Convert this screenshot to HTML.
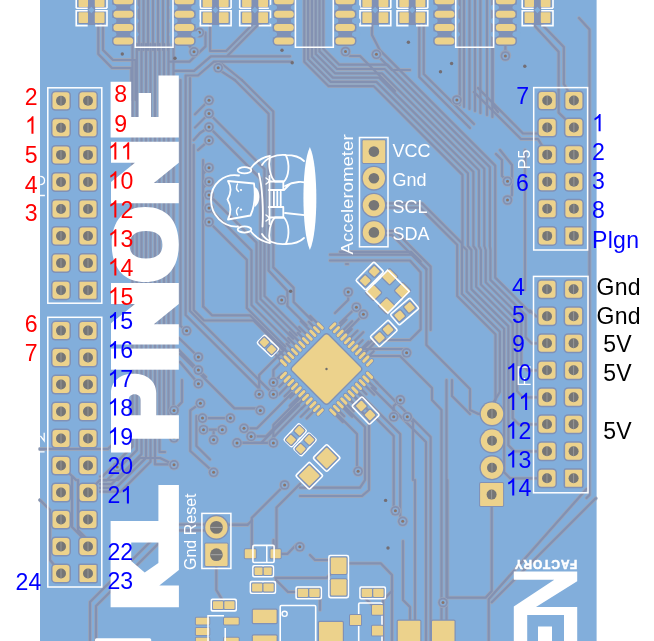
<!DOCTYPE html>
<html><head><meta charset="utf-8"><style>
html,body{margin:0;padding:0;background:#fff;overflow:hidden;}
svg{display:block;will-change:transform;font-family:"Liberation Sans",sans-serif;}
</style></head><body>
<svg width="654" height="641" viewBox="0 0 654 641">
<rect x="0" y="0" width="654" height="641" fill="#fff"/>
<rect x="40" y="0" width="556.6" height="641" fill="rgb(130,174,219)"/>
<g fill="none" stroke="rgb(155,166,186)" stroke-width="3.8" stroke-linejoin="round" stroke-linecap="round">
<polyline points="132.5,44.0 132.5,446.5 102.5,476.5 100.0,476.5"/>
<polyline points="136.8,44.0 136.8,450.3 106.8,480.3 100.0,480.3"/>
<polyline points="141.5,44.0 141.5,454.1 111.5,484.1 100.0,484.1"/>
<polyline points="146.0,44.0 146.0,457.9 116.0,487.9 100.0,487.9"/>
<polyline points="150.5,44.0 150.5,461.7 120.5,491.7 100.0,491.7"/>
<polyline points="155.0,44.0 155.0,464.4 173.6,464.4"/>
<polyline points="159.5,44.0 159.5,452.0 165.0,452.0"/>
<polyline points="164.0,44.0 164.0,425.0"/>
<polyline points="168.5,44.0 168.5,425.0"/>
<polyline points="173.5,44.0 173.5,425.0"/>
<polyline points="139.0,0.0 139.0,50.0"/>
<polyline points="143.5,0.0 143.5,50.0"/>
<polyline points="148.0,0.0 148.0,50.0"/>
<polyline points="153.0,0.0 153.0,50.0"/>
<polyline points="158.0,0.0 158.0,50.0"/>
<polyline points="163.0,0.0 163.0,50.0"/>
<polyline points="168.0,0.0 168.0,50.0"/>
<polyline points="98.3,24.0 98.3,54.0 112.0,68.0 131.4,68.0 131.4,100.0"/>
<polyline points="103.0,24.0 103.0,50.0 113.0,60.0 135.5,60.0 135.5,100.0"/>
<polyline points="199.4,32.6 205.5,32.6 205.5,46.4 189.5,61.7 170.0,61.7"/>
<polyline points="186.0,41.0 194.0,51.8"/>
<polyline points="210.1,24.0 210.1,51.0 226.2,51.0 252.0,25.0 252.0,22.0"/>
<polyline points="227.7,55.6 258.0,25.0 263.4,22.0"/>
<polyline points="290.0,56.3 210.9,56.3 194.0,70.9 174.2,70.9"/>
<polyline points="292.0,61.7 214.0,61.7 197.9,75.5 185.6,75.5 185.6,315.0 259.2,388.6 259.2,394.2"/>
<polyline points="180.5,80.0 180.5,326.0 186.6,330.8"/>
<polyline points="190.0,78.0 190.0,311.0 266.4,387.4 273.4,394.2"/>
<polyline points="193.7,140.0 200.0,133.0 209.0,127.1"/>
<polyline points="198.0,150.0 209.0,140.4"/>
<polyline points="193.7,145.0 193.7,310.0 204.0,320.5 253.6,320.5 282.4,349.4"/>
<polyline points="203.1,160.0 203.1,306.4 212.0,315.3 250.0,315.3 288.0,353.0"/>
<polyline points="209.0,100.3 195.0,114.3"/>
<polyline points="209.0,113.5 195.0,127.5"/>
<polyline points="209.0,222.0 246.8,259.8 246.8,308.0 285.3,346.5"/>
<polyline points="209.0,208.0 251.5,250.5 251.5,305.0 289.2,342.7"/>
<polyline points="209.0,195.0 256.5,242.5 256.5,302.0 293.2,338.7"/>
<polyline points="209.0,127.1 260.5,178.6 260.5,299.0 296.7,335.2"/>
<polyline points="209.0,113.5 264.5,169.0 264.5,296.0 300.2,331.7"/>
<polyline points="209.0,167.7 203.1,173.6"/>
<polyline points="209.0,181.7 203.1,187.6"/>
<polyline points="234.8,80.0 268.6,113.8 268.6,270.6 287.4,290.8 287.4,306.0 306.6,325.2"/>
<polyline points="241.8,80.0 273.3,111.5 273.3,267.4 293.6,287.7 293.6,302.0 311.7,320.1"/>
<polyline points="216.8,68.3 234.8,80.0"/>
<polyline points="222.0,64.0 241.8,80.0"/>
<polyline points="203.1,306.4 203.1,300.0"/>
<polyline points="384.0,207.6 420.0,207.6 457.2,244.8 457.2,296.0 495.5,334.3 495.5,400.0 492.0,405.0"/>
<polyline points="384.0,203.3 422.0,203.3 461.9,243.2 461.9,293.7 499.8,331.6 499.8,392.0 492.0,405.0"/>
<polyline points="304.3,0.0 304.3,61.8 328.7,86.2 373.8,86.2 462.5,174.9 462.5,246.0 466.7,250.0 466.7,291.4 504.1,328.8 504.1,472.3 510.1,478.3 547.0,478.3"/>
<polyline points="308.1,0.0 308.1,59.2 330.8,81.9 376.5,81.9 467.9,173.3 467.9,246.0 471.4,250.0 471.4,289.1 508.4,326.1 508.4,445.3 514.4,451.3 547.0,451.3"/>
<polyline points="311.9,0.0 311.9,56.6 332.9,77.6 379.2,77.6 473.4,171.8 473.4,246.0 476.2,250.0 476.2,286.8 512.7,323.3 512.7,418.3 518.7,424.3 547.0,424.3"/>
<polyline points="315.7,0.0 315.7,54.0 335.0,73.3 381.9,73.3 478.9,170.2 478.9,246.0 480.9,250.0 480.9,284.5 517.0,320.6 517.0,391.3 523.0,397.3 547.0,397.3"/>
<polyline points="319.5,0.0 319.5,51.4 337.1,69.0 384.6,69.0 484.3,168.7 484.3,246.0 485.7,250.0 485.7,282.2 521.3,317.8 521.3,364.3 527.3,370.3 547.0,370.3"/>
<polyline points="323.3,0.0 323.3,48.8 339.2,64.7 387.3,64.7 489.8,167.1 489.8,246.0 490.4,250.0 490.4,279.9 525.6,315.1 525.6,337.3 531.6,343.3 547.0,343.3"/>
<polyline points="372.0,25.0 372.0,35.0 380.0,50.4 495.2,165.6 495.2,246.0 495.2,250.0 495.2,277.6 529.9,312.3 529.9,310.3 535.9,316.3 547.0,316.3"/>
<polyline points="345.5,51.5 350.0,56.0 360.0,56.0 395.0,91.0"/>
<polyline points="376.4,54.3 392.0,70.0 410.0,70.0"/>
<polyline points="459.7,0.0 459.7,105.0"/>
<polyline points="464.0,0.0 464.0,107.0"/>
<polyline points="469.5,0.0 469.5,109.0"/>
<polyline points="475.0,0.0 475.0,111.0"/>
<polyline points="480.4,0.0 480.4,113.0"/>
<polyline points="487.0,0.0 487.0,115.0"/>
<polyline points="492.4,0.0 492.4,117.0"/>
<polyline points="419.3,25.0 419.3,77.0 470.0,128.0"/>
<polyline points="423.7,25.0 423.7,74.0 474.0,124.0"/>
<polyline points="180.0,354.0 234.5,408.4 260.3,408.4"/>
<polyline points="178.9,338.0 198.4,357.0"/>
<polyline points="178.9,350.0 198.4,370.1 206.0,377.0"/>
<polyline points="180.0,362.0 198.4,383.7"/>
<polyline points="200.4,403.3 190.3,410.4 190.3,451.0 213.6,472.3"/>
<polyline points="196.4,416.0 196.4,446.0 210.0,459.5"/>
<polyline points="202.5,418.1 230.4,418.1"/>
<polyline points="203.5,429.7 222.3,429.7"/>
<polyline points="213.6,439.8 213.6,432.0"/>
<polyline points="244.0,428.3 257.0,428.3 292.0,393.0"/>
<polyline points="237.0,442.9 261.3,442.9 298.9,405.1"/>
<polyline points="251.1,436.4 266.0,436.4 297.9,404.1"/>
<polyline points="273.4,442.9 273.4,425.0 300.0,398.0"/>
<polyline points="259.2,394.2 259.2,375.0 285.0,349.0"/>
<polyline points="273.4,394.2 273.4,370.0 289.0,354.0"/>
<polyline points="273.4,382.4 282.0,374.0"/>
<polyline points="40.0,449.0 108.0,449.0 126.0,431.0"/>
<polyline points="88.0,492.5 100.0,480.0 118.0,480.0 140.0,458.0 160.0,458.0 174.0,464.8"/>
<polyline points="61.0,465.5 76.0,480.0 72.0,476.0 72.0,527.0 88.0,543.0"/>
<polyline points="78.0,480.0 78.0,530.0 88.0,540.0"/>
<polyline points="40.0,500.0 50.0,510.0 50.0,560.0 61.0,573.4"/>
<polyline points="173.6,437.6 173.6,430.0"/>
<polyline points="174.0,410.4 182.0,402.0 182.0,380.0"/>
<polyline points="90.0,641.0 90.0,602.0 152.0,540.0"/>
<polyline points="96.0,641.0 96.0,606.0 158.0,544.0"/>
<polyline points="338.7,327.4 346.4,319.6"/>
<polyline points="342.3,331.1 352.2,321.2"/>
<polyline points="346.0,334.8 351.7,329.1"/>
<polyline points="349.7,338.5 357.5,330.7"/>
<polyline points="353.4,342.1 363.3,332.2"/>
<polyline points="357.0,345.8 362.7,340.2"/>
<polyline points="360.7,349.5 368.5,341.7"/>
<polyline points="364.4,353.2 374.3,343.3"/>
<polyline points="368.1,356.8 373.7,351.2"/>
<polyline points="371.8,377.5 377.4,383.1"/>
<polyline points="368.1,381.2 375.9,388.9"/>
<polyline points="364.4,384.8 374.3,394.7"/>
<polyline points="360.7,388.5 366.4,394.2"/>
<polyline points="357.0,392.2 364.8,400.0"/>
<polyline points="353.4,395.9 363.3,405.8"/>
<polyline points="349.7,399.5 355.3,405.2"/>
<polyline points="346.0,403.2 353.8,411.0"/>
<polyline points="342.3,406.9 352.2,416.8"/>
<polyline points="338.7,410.6 344.3,416.2"/>
<polyline points="335.0,414.3 342.8,422.0"/>
<polyline points="314.3,410.6 306.6,418.4"/>
<polyline points="310.7,406.9 300.8,416.8"/>
<polyline points="307.0,403.2 301.3,408.9"/>
<polyline points="303.3,399.5 295.5,407.3"/>
<polyline points="299.6,395.9 289.7,405.8"/>
<polyline points="296.0,392.2 290.3,397.8"/>
<polyline points="292.3,388.5 284.5,396.3"/>
<polyline points="288.6,384.8 278.7,394.7"/>
<polyline points="284.9,381.2 279.3,386.8"/>
<polyline points="281.2,360.5 275.6,354.9"/>
<polyline points="284.9,356.8 277.1,349.1"/>
<polyline points="288.6,353.2 278.7,343.3"/>
<polyline points="292.3,349.5 286.6,343.8"/>
<polyline points="296.0,345.8 288.2,338.0"/>
<polyline points="299.6,342.1 289.7,332.2"/>
<polyline points="303.3,338.5 297.7,332.8"/>
<polyline points="307.0,334.8 299.2,327.0"/>
<polyline points="310.7,331.1 300.8,321.2"/>
<polyline points="314.3,327.4 308.7,321.8"/>
<polyline points="318.0,323.7 310.2,316.0"/>
<polyline points="330.0,260.5 410.0,260.5 420.6,272.2 420.6,329.4 410.0,340.0 372.7,340.0 360.0,352.0"/>
<polyline points="330.0,254.7 412.0,254.7 426.4,269.0 426.4,345.0 470.0,389.0 470.0,410.0 478.0,413.8 492.0,413.8"/>
<polyline points="348.0,264.0 346.0,264.0"/>
<polyline points="348.2,292.0 348.2,300.0 335.0,313.0"/>
<polyline points="356.4,307.2 340.0,323.0"/>
<polyline points="363.4,314.3 345.0,333.0"/>
<polyline points="357.0,349.0 406.6,349.0 406.6,352.8"/>
<polyline points="360.0,356.0 400.0,356.0 432.0,388.0 432.0,400.0 441.5,410.0 441.5,641.0"/>
<polyline points="446.5,380.0 446.5,641.0"/>
<polyline points="452.0,380.0 452.0,396.0 470.0,414.0"/>
<polyline points="335.0,412.0 357.0,434.0 357.0,471.3"/>
<polyline points="344.0,406.0 365.0,427.0 365.0,480.0 360.0,487.7 300.0,487.7"/>
<polyline points="350.0,400.0 369.0,419.0 369.0,490.0 362.0,496.0 300.0,496.0"/>
<polyline points="354.0,396.0 393.7,436.0 393.7,510.8"/>
<polyline points="358.0,392.0 400.2,434.0 400.2,521.3"/>
<polyline points="371.6,387.6 426.0,442.0 426.0,641.0"/>
<polyline points="376.6,382.6 430.6,437.0 430.6,641.0"/>
<polyline points="400.3,399.9 393.7,406.0 393.7,416.8"/>
<polyline points="407.3,416.8 413.0,422.0 413.0,480.0"/>
<polyline points="447.4,480.0 447.4,597.7 485.6,597.7 491.7,591.0 491.7,494.0"/>
<polyline points="586.5,489.0 488.7,599.3 488.7,641.0"/>
<polyline points="595.7,498.3 491.7,602.3"/>
<polyline points="579.0,18.0 589.5,29.5 589.5,495.0 586.5,498.0"/>
<polyline points="532.9,24.0 558.6,51.7 558.6,112.6 573.9,127.2"/>
<polyline points="541.5,24.0 563.8,47.0 563.8,84.0 573.9,100.5"/>
<polyline points="505.4,56.0 505.4,41.0"/>
<polyline points="492.6,45.0 492.6,105.0 498.0,112.0"/>
<polyline points="280.7,553.8 287.6,553.8 296.0,545.0 299.8,546.8"/>
<polyline points="275.4,577.9 326.7,577.9 330.8,574.0"/>
<polyline points="349.0,563.3 380.7,563.3 392.0,575.0 392.0,641.0"/>
<polyline points="273.5,540.0 273.5,549.3"/>
<polyline points="284.6,485.0 251.8,517.8 251.8,549.0"/>
<polyline points="300.0,484.0 276.5,507.5 276.5,549.0"/>
<polyline points="230.0,525.0 247.4,525.0 251.8,520.6"/>
<polyline points="237.0,442.9 267.8,442.9 301.9,408.0"/>
<polyline points="216.3,566.0 216.3,590.0 222.0,599.4"/>
<polyline points="340.0,560.0 315.0,560.0 310.0,555.0"/>
<polyline points="383.0,640.0 383.0,600.0 392.0,591.0"/>
<polyline points="296.0,592.0 288.0,592.0 276.0,580.0"/>
<polyline points="320.0,598.0 320.0,610.0"/>
<polyline points="372.0,605.0 365.0,598.0"/>
<polyline points="403.0,541.0 403.0,600.0 410.0,607.0 410.0,641.0"/>
<polyline points="415.0,480.0 415.0,641.0"/>
<polyline points="384.0,231.0 395.0,231.0 430.6,266.6 430.6,330.0"/>
<polyline points="384.0,235.0 392.0,235.0 426.4,269.4"/>
<polyline points="340.0,251.8 411.0,251.8 420.6,261.4"/>
<polyline points="478.0,88.0 523.0,133.5 540.0,133.5 547.2,127.2"/>
<polyline points="474.0,92.0 521.0,139.0 538.0,139.0 547.2,154.4"/>
<polyline points="507.5,181.2 502.0,176.0 502.0,160.0 496.0,154.0"/>
<polyline points="507.5,200.0 512.0,195.0 512.0,165.0 500.0,150.0"/>
<polyline points="525.0,150.0 525.0,290.0"/>
<polyline points="178.9,524.5 205.0,524.5"/>
<polyline points="178.9,530.3 205.0,530.3"/>
<polyline points="228.0,524.5 247.4,524.5"/>
</g>
<g fill="none" stroke="rgb(131,145,178)" stroke-width="2.2" stroke-linejoin="round" stroke-linecap="round">
<polyline points="132.5,44.0 132.5,446.5 102.5,476.5 100.0,476.5"/>
<polyline points="136.8,44.0 136.8,450.3 106.8,480.3 100.0,480.3"/>
<polyline points="141.5,44.0 141.5,454.1 111.5,484.1 100.0,484.1"/>
<polyline points="146.0,44.0 146.0,457.9 116.0,487.9 100.0,487.9"/>
<polyline points="150.5,44.0 150.5,461.7 120.5,491.7 100.0,491.7"/>
<polyline points="155.0,44.0 155.0,464.4 173.6,464.4"/>
<polyline points="159.5,44.0 159.5,452.0 165.0,452.0"/>
<polyline points="164.0,44.0 164.0,425.0"/>
<polyline points="168.5,44.0 168.5,425.0"/>
<polyline points="173.5,44.0 173.5,425.0"/>
<polyline points="139.0,0.0 139.0,50.0"/>
<polyline points="143.5,0.0 143.5,50.0"/>
<polyline points="148.0,0.0 148.0,50.0"/>
<polyline points="153.0,0.0 153.0,50.0"/>
<polyline points="158.0,0.0 158.0,50.0"/>
<polyline points="163.0,0.0 163.0,50.0"/>
<polyline points="168.0,0.0 168.0,50.0"/>
<polyline points="98.3,24.0 98.3,54.0 112.0,68.0 131.4,68.0 131.4,100.0"/>
<polyline points="103.0,24.0 103.0,50.0 113.0,60.0 135.5,60.0 135.5,100.0"/>
<polyline points="199.4,32.6 205.5,32.6 205.5,46.4 189.5,61.7 170.0,61.7"/>
<polyline points="186.0,41.0 194.0,51.8"/>
<polyline points="210.1,24.0 210.1,51.0 226.2,51.0 252.0,25.0 252.0,22.0"/>
<polyline points="227.7,55.6 258.0,25.0 263.4,22.0"/>
<polyline points="290.0,56.3 210.9,56.3 194.0,70.9 174.2,70.9"/>
<polyline points="292.0,61.7 214.0,61.7 197.9,75.5 185.6,75.5 185.6,315.0 259.2,388.6 259.2,394.2"/>
<polyline points="180.5,80.0 180.5,326.0 186.6,330.8"/>
<polyline points="190.0,78.0 190.0,311.0 266.4,387.4 273.4,394.2"/>
<polyline points="193.7,140.0 200.0,133.0 209.0,127.1"/>
<polyline points="198.0,150.0 209.0,140.4"/>
<polyline points="193.7,145.0 193.7,310.0 204.0,320.5 253.6,320.5 282.4,349.4"/>
<polyline points="203.1,160.0 203.1,306.4 212.0,315.3 250.0,315.3 288.0,353.0"/>
<polyline points="209.0,100.3 195.0,114.3"/>
<polyline points="209.0,113.5 195.0,127.5"/>
<polyline points="209.0,222.0 246.8,259.8 246.8,308.0 285.3,346.5"/>
<polyline points="209.0,208.0 251.5,250.5 251.5,305.0 289.2,342.7"/>
<polyline points="209.0,195.0 256.5,242.5 256.5,302.0 293.2,338.7"/>
<polyline points="209.0,127.1 260.5,178.6 260.5,299.0 296.7,335.2"/>
<polyline points="209.0,113.5 264.5,169.0 264.5,296.0 300.2,331.7"/>
<polyline points="209.0,167.7 203.1,173.6"/>
<polyline points="209.0,181.7 203.1,187.6"/>
<polyline points="234.8,80.0 268.6,113.8 268.6,270.6 287.4,290.8 287.4,306.0 306.6,325.2"/>
<polyline points="241.8,80.0 273.3,111.5 273.3,267.4 293.6,287.7 293.6,302.0 311.7,320.1"/>
<polyline points="216.8,68.3 234.8,80.0"/>
<polyline points="222.0,64.0 241.8,80.0"/>
<polyline points="203.1,306.4 203.1,300.0"/>
<polyline points="384.0,207.6 420.0,207.6 457.2,244.8 457.2,296.0 495.5,334.3 495.5,400.0 492.0,405.0"/>
<polyline points="384.0,203.3 422.0,203.3 461.9,243.2 461.9,293.7 499.8,331.6 499.8,392.0 492.0,405.0"/>
<polyline points="304.3,0.0 304.3,61.8 328.7,86.2 373.8,86.2 462.5,174.9 462.5,246.0 466.7,250.0 466.7,291.4 504.1,328.8 504.1,472.3 510.1,478.3 547.0,478.3"/>
<polyline points="308.1,0.0 308.1,59.2 330.8,81.9 376.5,81.9 467.9,173.3 467.9,246.0 471.4,250.0 471.4,289.1 508.4,326.1 508.4,445.3 514.4,451.3 547.0,451.3"/>
<polyline points="311.9,0.0 311.9,56.6 332.9,77.6 379.2,77.6 473.4,171.8 473.4,246.0 476.2,250.0 476.2,286.8 512.7,323.3 512.7,418.3 518.7,424.3 547.0,424.3"/>
<polyline points="315.7,0.0 315.7,54.0 335.0,73.3 381.9,73.3 478.9,170.2 478.9,246.0 480.9,250.0 480.9,284.5 517.0,320.6 517.0,391.3 523.0,397.3 547.0,397.3"/>
<polyline points="319.5,0.0 319.5,51.4 337.1,69.0 384.6,69.0 484.3,168.7 484.3,246.0 485.7,250.0 485.7,282.2 521.3,317.8 521.3,364.3 527.3,370.3 547.0,370.3"/>
<polyline points="323.3,0.0 323.3,48.8 339.2,64.7 387.3,64.7 489.8,167.1 489.8,246.0 490.4,250.0 490.4,279.9 525.6,315.1 525.6,337.3 531.6,343.3 547.0,343.3"/>
<polyline points="372.0,25.0 372.0,35.0 380.0,50.4 495.2,165.6 495.2,246.0 495.2,250.0 495.2,277.6 529.9,312.3 529.9,310.3 535.9,316.3 547.0,316.3"/>
<polyline points="345.5,51.5 350.0,56.0 360.0,56.0 395.0,91.0"/>
<polyline points="376.4,54.3 392.0,70.0 410.0,70.0"/>
<polyline points="459.7,0.0 459.7,105.0"/>
<polyline points="464.0,0.0 464.0,107.0"/>
<polyline points="469.5,0.0 469.5,109.0"/>
<polyline points="475.0,0.0 475.0,111.0"/>
<polyline points="480.4,0.0 480.4,113.0"/>
<polyline points="487.0,0.0 487.0,115.0"/>
<polyline points="492.4,0.0 492.4,117.0"/>
<polyline points="419.3,25.0 419.3,77.0 470.0,128.0"/>
<polyline points="423.7,25.0 423.7,74.0 474.0,124.0"/>
<polyline points="180.0,354.0 234.5,408.4 260.3,408.4"/>
<polyline points="178.9,338.0 198.4,357.0"/>
<polyline points="178.9,350.0 198.4,370.1 206.0,377.0"/>
<polyline points="180.0,362.0 198.4,383.7"/>
<polyline points="200.4,403.3 190.3,410.4 190.3,451.0 213.6,472.3"/>
<polyline points="196.4,416.0 196.4,446.0 210.0,459.5"/>
<polyline points="202.5,418.1 230.4,418.1"/>
<polyline points="203.5,429.7 222.3,429.7"/>
<polyline points="213.6,439.8 213.6,432.0"/>
<polyline points="244.0,428.3 257.0,428.3 292.0,393.0"/>
<polyline points="237.0,442.9 261.3,442.9 298.9,405.1"/>
<polyline points="251.1,436.4 266.0,436.4 297.9,404.1"/>
<polyline points="273.4,442.9 273.4,425.0 300.0,398.0"/>
<polyline points="259.2,394.2 259.2,375.0 285.0,349.0"/>
<polyline points="273.4,394.2 273.4,370.0 289.0,354.0"/>
<polyline points="273.4,382.4 282.0,374.0"/>
<polyline points="40.0,449.0 108.0,449.0 126.0,431.0"/>
<polyline points="88.0,492.5 100.0,480.0 118.0,480.0 140.0,458.0 160.0,458.0 174.0,464.8"/>
<polyline points="61.0,465.5 76.0,480.0 72.0,476.0 72.0,527.0 88.0,543.0"/>
<polyline points="78.0,480.0 78.0,530.0 88.0,540.0"/>
<polyline points="40.0,500.0 50.0,510.0 50.0,560.0 61.0,573.4"/>
<polyline points="173.6,437.6 173.6,430.0"/>
<polyline points="174.0,410.4 182.0,402.0 182.0,380.0"/>
<polyline points="90.0,641.0 90.0,602.0 152.0,540.0"/>
<polyline points="96.0,641.0 96.0,606.0 158.0,544.0"/>
<polyline points="338.7,327.4 346.4,319.6"/>
<polyline points="342.3,331.1 352.2,321.2"/>
<polyline points="346.0,334.8 351.7,329.1"/>
<polyline points="349.7,338.5 357.5,330.7"/>
<polyline points="353.4,342.1 363.3,332.2"/>
<polyline points="357.0,345.8 362.7,340.2"/>
<polyline points="360.7,349.5 368.5,341.7"/>
<polyline points="364.4,353.2 374.3,343.3"/>
<polyline points="368.1,356.8 373.7,351.2"/>
<polyline points="371.8,377.5 377.4,383.1"/>
<polyline points="368.1,381.2 375.9,388.9"/>
<polyline points="364.4,384.8 374.3,394.7"/>
<polyline points="360.7,388.5 366.4,394.2"/>
<polyline points="357.0,392.2 364.8,400.0"/>
<polyline points="353.4,395.9 363.3,405.8"/>
<polyline points="349.7,399.5 355.3,405.2"/>
<polyline points="346.0,403.2 353.8,411.0"/>
<polyline points="342.3,406.9 352.2,416.8"/>
<polyline points="338.7,410.6 344.3,416.2"/>
<polyline points="335.0,414.3 342.8,422.0"/>
<polyline points="314.3,410.6 306.6,418.4"/>
<polyline points="310.7,406.9 300.8,416.8"/>
<polyline points="307.0,403.2 301.3,408.9"/>
<polyline points="303.3,399.5 295.5,407.3"/>
<polyline points="299.6,395.9 289.7,405.8"/>
<polyline points="296.0,392.2 290.3,397.8"/>
<polyline points="292.3,388.5 284.5,396.3"/>
<polyline points="288.6,384.8 278.7,394.7"/>
<polyline points="284.9,381.2 279.3,386.8"/>
<polyline points="281.2,360.5 275.6,354.9"/>
<polyline points="284.9,356.8 277.1,349.1"/>
<polyline points="288.6,353.2 278.7,343.3"/>
<polyline points="292.3,349.5 286.6,343.8"/>
<polyline points="296.0,345.8 288.2,338.0"/>
<polyline points="299.6,342.1 289.7,332.2"/>
<polyline points="303.3,338.5 297.7,332.8"/>
<polyline points="307.0,334.8 299.2,327.0"/>
<polyline points="310.7,331.1 300.8,321.2"/>
<polyline points="314.3,327.4 308.7,321.8"/>
<polyline points="318.0,323.7 310.2,316.0"/>
<polyline points="330.0,260.5 410.0,260.5 420.6,272.2 420.6,329.4 410.0,340.0 372.7,340.0 360.0,352.0"/>
<polyline points="330.0,254.7 412.0,254.7 426.4,269.0 426.4,345.0 470.0,389.0 470.0,410.0 478.0,413.8 492.0,413.8"/>
<polyline points="348.0,264.0 346.0,264.0"/>
<polyline points="348.2,292.0 348.2,300.0 335.0,313.0"/>
<polyline points="356.4,307.2 340.0,323.0"/>
<polyline points="363.4,314.3 345.0,333.0"/>
<polyline points="357.0,349.0 406.6,349.0 406.6,352.8"/>
<polyline points="360.0,356.0 400.0,356.0 432.0,388.0 432.0,400.0 441.5,410.0 441.5,641.0"/>
<polyline points="446.5,380.0 446.5,641.0"/>
<polyline points="452.0,380.0 452.0,396.0 470.0,414.0"/>
<polyline points="335.0,412.0 357.0,434.0 357.0,471.3"/>
<polyline points="344.0,406.0 365.0,427.0 365.0,480.0 360.0,487.7 300.0,487.7"/>
<polyline points="350.0,400.0 369.0,419.0 369.0,490.0 362.0,496.0 300.0,496.0"/>
<polyline points="354.0,396.0 393.7,436.0 393.7,510.8"/>
<polyline points="358.0,392.0 400.2,434.0 400.2,521.3"/>
<polyline points="371.6,387.6 426.0,442.0 426.0,641.0"/>
<polyline points="376.6,382.6 430.6,437.0 430.6,641.0"/>
<polyline points="400.3,399.9 393.7,406.0 393.7,416.8"/>
<polyline points="407.3,416.8 413.0,422.0 413.0,480.0"/>
<polyline points="447.4,480.0 447.4,597.7 485.6,597.7 491.7,591.0 491.7,494.0"/>
<polyline points="586.5,489.0 488.7,599.3 488.7,641.0"/>
<polyline points="595.7,498.3 491.7,602.3"/>
<polyline points="579.0,18.0 589.5,29.5 589.5,495.0 586.5,498.0"/>
<polyline points="532.9,24.0 558.6,51.7 558.6,112.6 573.9,127.2"/>
<polyline points="541.5,24.0 563.8,47.0 563.8,84.0 573.9,100.5"/>
<polyline points="505.4,56.0 505.4,41.0"/>
<polyline points="492.6,45.0 492.6,105.0 498.0,112.0"/>
<polyline points="280.7,553.8 287.6,553.8 296.0,545.0 299.8,546.8"/>
<polyline points="275.4,577.9 326.7,577.9 330.8,574.0"/>
<polyline points="349.0,563.3 380.7,563.3 392.0,575.0 392.0,641.0"/>
<polyline points="273.5,540.0 273.5,549.3"/>
<polyline points="284.6,485.0 251.8,517.8 251.8,549.0"/>
<polyline points="300.0,484.0 276.5,507.5 276.5,549.0"/>
<polyline points="230.0,525.0 247.4,525.0 251.8,520.6"/>
<polyline points="237.0,442.9 267.8,442.9 301.9,408.0"/>
<polyline points="216.3,566.0 216.3,590.0 222.0,599.4"/>
<polyline points="340.0,560.0 315.0,560.0 310.0,555.0"/>
<polyline points="383.0,640.0 383.0,600.0 392.0,591.0"/>
<polyline points="296.0,592.0 288.0,592.0 276.0,580.0"/>
<polyline points="320.0,598.0 320.0,610.0"/>
<polyline points="372.0,605.0 365.0,598.0"/>
<polyline points="403.0,541.0 403.0,600.0 410.0,607.0 410.0,641.0"/>
<polyline points="415.0,480.0 415.0,641.0"/>
<polyline points="384.0,231.0 395.0,231.0 430.6,266.6 430.6,330.0"/>
<polyline points="384.0,235.0 392.0,235.0 426.4,269.4"/>
<polyline points="340.0,251.8 411.0,251.8 420.6,261.4"/>
<polyline points="478.0,88.0 523.0,133.5 540.0,133.5 547.2,127.2"/>
<polyline points="474.0,92.0 521.0,139.0 538.0,139.0 547.2,154.4"/>
<polyline points="507.5,181.2 502.0,176.0 502.0,160.0 496.0,154.0"/>
<polyline points="507.5,200.0 512.0,195.0 512.0,165.0 500.0,150.0"/>
<polyline points="525.0,150.0 525.0,290.0"/>
<polyline points="178.9,524.5 205.0,524.5"/>
<polyline points="178.9,530.3 205.0,530.3"/>
<polyline points="228.0,524.5 247.4,524.5"/>
</g>
<circle cx="199.4" cy="32.6" r="5.6" fill="rgb(155,166,186)"/><circle cx="199.4" cy="32.6" r="4.8" fill="rgb(131,145,178)"/><circle cx="199.4" cy="32.6" r="3.1" fill="rgb(150,170,200)"/><circle cx="199.4" cy="32.6" r="2.5" fill="rgb(130,174,219)"/><circle cx="199.4" cy="32.6" r="1.5" fill="rgb(140,116,104)"/>
<circle cx="194" cy="51.8" r="5.6" fill="rgb(155,166,186)"/><circle cx="194" cy="51.8" r="4.8" fill="rgb(131,145,178)"/><circle cx="194" cy="51.8" r="3.1" fill="rgb(150,170,200)"/><circle cx="194" cy="51.8" r="2.5" fill="rgb(130,174,219)"/><circle cx="194" cy="51.8" r="1.5" fill="rgb(140,116,104)"/>
<circle cx="218.2" cy="67.8" r="5.6" fill="rgb(155,166,186)"/><circle cx="218.2" cy="67.8" r="4.8" fill="rgb(131,145,178)"/><circle cx="218.2" cy="67.8" r="3.1" fill="rgb(150,170,200)"/><circle cx="218.2" cy="67.8" r="2.5" fill="rgb(130,174,219)"/><circle cx="218.2" cy="67.8" r="1.5" fill="rgb(140,116,104)"/>
<circle cx="209" cy="100.3" r="5.6" fill="rgb(155,166,186)"/><circle cx="209" cy="100.3" r="4.8" fill="rgb(131,145,178)"/><circle cx="209" cy="100.3" r="3.1" fill="rgb(150,170,200)"/><circle cx="209" cy="100.3" r="2.5" fill="rgb(130,174,219)"/><circle cx="209" cy="100.3" r="1.5" fill="rgb(140,116,104)"/>
<circle cx="209" cy="113.5" r="5.6" fill="rgb(155,166,186)"/><circle cx="209" cy="113.5" r="4.8" fill="rgb(131,145,178)"/><circle cx="209" cy="113.5" r="3.1" fill="rgb(150,170,200)"/><circle cx="209" cy="113.5" r="2.5" fill="rgb(130,174,219)"/><circle cx="209" cy="113.5" r="1.5" fill="rgb(140,116,104)"/>
<circle cx="209" cy="127.1" r="5.6" fill="rgb(155,166,186)"/><circle cx="209" cy="127.1" r="4.8" fill="rgb(131,145,178)"/><circle cx="209" cy="127.1" r="3.1" fill="rgb(150,170,200)"/><circle cx="209" cy="127.1" r="2.5" fill="rgb(130,174,219)"/><circle cx="209" cy="127.1" r="1.5" fill="rgb(140,116,104)"/>
<circle cx="209" cy="140.4" r="5.6" fill="rgb(155,166,186)"/><circle cx="209" cy="140.4" r="4.8" fill="rgb(131,145,178)"/><circle cx="209" cy="140.4" r="3.1" fill="rgb(150,170,200)"/><circle cx="209" cy="140.4" r="2.5" fill="rgb(130,174,219)"/><circle cx="209" cy="140.4" r="1.5" fill="rgb(140,116,104)"/>
<circle cx="209" cy="167.7" r="5.6" fill="rgb(155,166,186)"/><circle cx="209" cy="167.7" r="4.8" fill="rgb(131,145,178)"/><circle cx="209" cy="167.7" r="3.1" fill="rgb(150,170,200)"/><circle cx="209" cy="167.7" r="2.5" fill="rgb(130,174,219)"/><circle cx="209" cy="167.7" r="1.5" fill="rgb(140,116,104)"/>
<circle cx="209" cy="181.7" r="5.6" fill="rgb(155,166,186)"/><circle cx="209" cy="181.7" r="4.8" fill="rgb(131,145,178)"/><circle cx="209" cy="181.7" r="3.1" fill="rgb(150,170,200)"/><circle cx="209" cy="181.7" r="2.5" fill="rgb(130,174,219)"/><circle cx="209" cy="181.7" r="1.5" fill="rgb(140,116,104)"/>
<circle cx="209" cy="195" r="5.6" fill="rgb(155,166,186)"/><circle cx="209" cy="195" r="4.8" fill="rgb(131,145,178)"/><circle cx="209" cy="195" r="3.1" fill="rgb(150,170,200)"/><circle cx="209" cy="195" r="2.5" fill="rgb(130,174,219)"/><circle cx="209" cy="195" r="1.5" fill="rgb(140,116,104)"/>
<circle cx="209" cy="208" r="5.6" fill="rgb(155,166,186)"/><circle cx="209" cy="208" r="4.8" fill="rgb(131,145,178)"/><circle cx="209" cy="208" r="3.1" fill="rgb(150,170,200)"/><circle cx="209" cy="208" r="2.5" fill="rgb(130,174,219)"/><circle cx="209" cy="208" r="1.5" fill="rgb(140,116,104)"/>
<circle cx="209" cy="222" r="5.6" fill="rgb(155,166,186)"/><circle cx="209" cy="222" r="4.8" fill="rgb(131,145,178)"/><circle cx="209" cy="222" r="3.1" fill="rgb(150,170,200)"/><circle cx="209" cy="222" r="2.5" fill="rgb(130,174,219)"/><circle cx="209" cy="222" r="1.5" fill="rgb(140,116,104)"/>
<circle cx="186.6" cy="330.8" r="5.6" fill="rgb(155,166,186)"/><circle cx="186.6" cy="330.8" r="4.8" fill="rgb(131,145,178)"/><circle cx="186.6" cy="330.8" r="3.1" fill="rgb(150,170,200)"/><circle cx="186.6" cy="330.8" r="2.5" fill="rgb(130,174,219)"/><circle cx="186.6" cy="330.8" r="1.5" fill="rgb(140,116,104)"/>
<circle cx="281.7" cy="300" r="5.6" fill="rgb(155,166,186)"/><circle cx="281.7" cy="300" r="4.8" fill="rgb(131,145,178)"/><circle cx="281.7" cy="300" r="3.1" fill="rgb(150,170,200)"/><circle cx="281.7" cy="300" r="2.5" fill="rgb(130,174,219)"/><circle cx="281.7" cy="300" r="1.5" fill="rgb(140,116,104)"/>
<circle cx="345.5" cy="51.5" r="5.6" fill="rgb(155,166,186)"/><circle cx="345.5" cy="51.5" r="4.8" fill="rgb(131,145,178)"/><circle cx="345.5" cy="51.5" r="3.1" fill="rgb(150,170,200)"/><circle cx="345.5" cy="51.5" r="2.5" fill="rgb(130,174,219)"/><circle cx="345.5" cy="51.5" r="1.5" fill="rgb(140,116,104)"/>
<circle cx="376.4" cy="54.3" r="5.6" fill="rgb(155,166,186)"/><circle cx="376.4" cy="54.3" r="4.8" fill="rgb(131,145,178)"/><circle cx="376.4" cy="54.3" r="3.1" fill="rgb(150,170,200)"/><circle cx="376.4" cy="54.3" r="2.5" fill="rgb(130,174,219)"/><circle cx="376.4" cy="54.3" r="1.5" fill="rgb(140,116,104)"/>
<circle cx="456.9" cy="100" r="5.6" fill="rgb(155,166,186)"/><circle cx="456.9" cy="100" r="4.8" fill="rgb(131,145,178)"/><circle cx="456.9" cy="100" r="3.1" fill="rgb(150,170,200)"/><circle cx="456.9" cy="100" r="2.5" fill="rgb(130,174,219)"/><circle cx="456.9" cy="100" r="1.5" fill="rgb(140,116,104)"/>
<circle cx="505.5" cy="55.3" r="5.6" fill="rgb(155,166,186)"/><circle cx="505.5" cy="55.3" r="4.8" fill="rgb(131,145,178)"/><circle cx="505.5" cy="55.3" r="3.1" fill="rgb(150,170,200)"/><circle cx="505.5" cy="55.3" r="2.5" fill="rgb(130,174,219)"/><circle cx="505.5" cy="55.3" r="1.5" fill="rgb(140,116,104)"/>
<circle cx="198.4" cy="383.7" r="5.6" fill="rgb(155,166,186)"/><circle cx="198.4" cy="383.7" r="4.8" fill="rgb(131,145,178)"/><circle cx="198.4" cy="383.7" r="3.1" fill="rgb(150,170,200)"/><circle cx="198.4" cy="383.7" r="2.5" fill="rgb(130,174,219)"/><circle cx="198.4" cy="383.7" r="1.5" fill="rgb(140,116,104)"/>
<circle cx="200.4" cy="403.3" r="5.6" fill="rgb(155,166,186)"/><circle cx="200.4" cy="403.3" r="4.8" fill="rgb(131,145,178)"/><circle cx="200.4" cy="403.3" r="3.1" fill="rgb(150,170,200)"/><circle cx="200.4" cy="403.3" r="2.5" fill="rgb(130,174,219)"/><circle cx="200.4" cy="403.3" r="1.5" fill="rgb(140,116,104)"/>
<circle cx="174" cy="410.4" r="5.6" fill="rgb(155,166,186)"/><circle cx="174" cy="410.4" r="4.8" fill="rgb(131,145,178)"/><circle cx="174" cy="410.4" r="3.1" fill="rgb(150,170,200)"/><circle cx="174" cy="410.4" r="2.5" fill="rgb(130,174,219)"/><circle cx="174" cy="410.4" r="1.5" fill="rgb(140,116,104)"/>
<circle cx="202.5" cy="418.1" r="5.6" fill="rgb(155,166,186)"/><circle cx="202.5" cy="418.1" r="4.8" fill="rgb(131,145,178)"/><circle cx="202.5" cy="418.1" r="3.1" fill="rgb(150,170,200)"/><circle cx="202.5" cy="418.1" r="2.5" fill="rgb(130,174,219)"/><circle cx="202.5" cy="418.1" r="1.5" fill="rgb(140,116,104)"/>
<circle cx="230.4" cy="418.1" r="5.6" fill="rgb(155,166,186)"/><circle cx="230.4" cy="418.1" r="4.8" fill="rgb(131,145,178)"/><circle cx="230.4" cy="418.1" r="3.1" fill="rgb(150,170,200)"/><circle cx="230.4" cy="418.1" r="2.5" fill="rgb(130,174,219)"/><circle cx="230.4" cy="418.1" r="1.5" fill="rgb(140,116,104)"/>
<circle cx="203.5" cy="429.7" r="5.6" fill="rgb(155,166,186)"/><circle cx="203.5" cy="429.7" r="4.8" fill="rgb(131,145,178)"/><circle cx="203.5" cy="429.7" r="3.1" fill="rgb(150,170,200)"/><circle cx="203.5" cy="429.7" r="2.5" fill="rgb(130,174,219)"/><circle cx="203.5" cy="429.7" r="1.5" fill="rgb(140,116,104)"/>
<circle cx="222.3" cy="429.7" r="5.6" fill="rgb(155,166,186)"/><circle cx="222.3" cy="429.7" r="4.8" fill="rgb(131,145,178)"/><circle cx="222.3" cy="429.7" r="3.1" fill="rgb(150,170,200)"/><circle cx="222.3" cy="429.7" r="2.5" fill="rgb(130,174,219)"/><circle cx="222.3" cy="429.7" r="1.5" fill="rgb(140,116,104)"/>
<circle cx="213.6" cy="439.8" r="5.6" fill="rgb(155,166,186)"/><circle cx="213.6" cy="439.8" r="4.8" fill="rgb(131,145,178)"/><circle cx="213.6" cy="439.8" r="3.1" fill="rgb(150,170,200)"/><circle cx="213.6" cy="439.8" r="2.5" fill="rgb(130,174,219)"/><circle cx="213.6" cy="439.8" r="1.5" fill="rgb(140,116,104)"/>
<circle cx="174" cy="437.8" r="5.6" fill="rgb(155,166,186)"/><circle cx="174" cy="437.8" r="4.8" fill="rgb(131,145,178)"/><circle cx="174" cy="437.8" r="3.1" fill="rgb(150,170,200)"/><circle cx="174" cy="437.8" r="2.5" fill="rgb(130,174,219)"/><circle cx="174" cy="437.8" r="1.5" fill="rgb(140,116,104)"/>
<circle cx="174" cy="464.8" r="5.6" fill="rgb(155,166,186)"/><circle cx="174" cy="464.8" r="4.8" fill="rgb(131,145,178)"/><circle cx="174" cy="464.8" r="3.1" fill="rgb(150,170,200)"/><circle cx="174" cy="464.8" r="2.5" fill="rgb(130,174,219)"/><circle cx="174" cy="464.8" r="1.5" fill="rgb(140,116,104)"/>
<circle cx="213.6" cy="472.3" r="5.6" fill="rgb(155,166,186)"/><circle cx="213.6" cy="472.3" r="4.8" fill="rgb(131,145,178)"/><circle cx="213.6" cy="472.3" r="3.1" fill="rgb(150,170,200)"/><circle cx="213.6" cy="472.3" r="2.5" fill="rgb(130,174,219)"/><circle cx="213.6" cy="472.3" r="1.5" fill="rgb(140,116,104)"/>
<circle cx="260.3" cy="410.4" r="5.6" fill="rgb(155,166,186)"/><circle cx="260.3" cy="410.4" r="4.8" fill="rgb(131,145,178)"/><circle cx="260.3" cy="410.4" r="3.1" fill="rgb(150,170,200)"/><circle cx="260.3" cy="410.4" r="2.5" fill="rgb(130,174,219)"/><circle cx="260.3" cy="410.4" r="1.5" fill="rgb(140,116,104)"/>
<circle cx="244" cy="428.3" r="5.6" fill="rgb(155,166,186)"/><circle cx="244" cy="428.3" r="4.8" fill="rgb(131,145,178)"/><circle cx="244" cy="428.3" r="3.1" fill="rgb(150,170,200)"/><circle cx="244" cy="428.3" r="2.5" fill="rgb(130,174,219)"/><circle cx="244" cy="428.3" r="1.5" fill="rgb(140,116,104)"/>
<circle cx="251.1" cy="436.4" r="5.6" fill="rgb(155,166,186)"/><circle cx="251.1" cy="436.4" r="4.8" fill="rgb(131,145,178)"/><circle cx="251.1" cy="436.4" r="3.1" fill="rgb(150,170,200)"/><circle cx="251.1" cy="436.4" r="2.5" fill="rgb(130,174,219)"/><circle cx="251.1" cy="436.4" r="1.5" fill="rgb(140,116,104)"/>
<circle cx="237" cy="442.9" r="5.6" fill="rgb(155,166,186)"/><circle cx="237" cy="442.9" r="4.8" fill="rgb(131,145,178)"/><circle cx="237" cy="442.9" r="3.1" fill="rgb(150,170,200)"/><circle cx="237" cy="442.9" r="2.5" fill="rgb(130,174,219)"/><circle cx="237" cy="442.9" r="1.5" fill="rgb(140,116,104)"/>
<circle cx="273.4" cy="442.9" r="5.6" fill="rgb(155,166,186)"/><circle cx="273.4" cy="442.9" r="4.8" fill="rgb(131,145,178)"/><circle cx="273.4" cy="442.9" r="3.1" fill="rgb(150,170,200)"/><circle cx="273.4" cy="442.9" r="2.5" fill="rgb(130,174,219)"/><circle cx="273.4" cy="442.9" r="1.5" fill="rgb(140,116,104)"/>
<circle cx="259.2" cy="394.2" r="5.6" fill="rgb(155,166,186)"/><circle cx="259.2" cy="394.2" r="4.8" fill="rgb(131,145,178)"/><circle cx="259.2" cy="394.2" r="3.1" fill="rgb(150,170,200)"/><circle cx="259.2" cy="394.2" r="2.5" fill="rgb(130,174,219)"/><circle cx="259.2" cy="394.2" r="1.5" fill="rgb(140,116,104)"/>
<circle cx="273.4" cy="394.2" r="5.6" fill="rgb(155,166,186)"/><circle cx="273.4" cy="394.2" r="4.8" fill="rgb(131,145,178)"/><circle cx="273.4" cy="394.2" r="3.1" fill="rgb(150,170,200)"/><circle cx="273.4" cy="394.2" r="2.5" fill="rgb(130,174,219)"/><circle cx="273.4" cy="394.2" r="1.5" fill="rgb(140,116,104)"/>
<circle cx="273.4" cy="382.4" r="5.6" fill="rgb(155,166,186)"/><circle cx="273.4" cy="382.4" r="4.8" fill="rgb(131,145,178)"/><circle cx="273.4" cy="382.4" r="3.1" fill="rgb(150,170,200)"/><circle cx="273.4" cy="382.4" r="2.5" fill="rgb(130,174,219)"/><circle cx="273.4" cy="382.4" r="1.5" fill="rgb(140,116,104)"/>
<circle cx="284.6" cy="485" r="5.6" fill="rgb(155,166,186)"/><circle cx="284.6" cy="485" r="4.8" fill="rgb(131,145,178)"/><circle cx="284.6" cy="485" r="3.1" fill="rgb(150,170,200)"/><circle cx="284.6" cy="485" r="2.5" fill="rgb(130,174,219)"/><circle cx="284.6" cy="485" r="1.5" fill="rgb(140,116,104)"/>
<circle cx="198.4" cy="357" r="5.6" fill="rgb(155,166,186)"/><circle cx="198.4" cy="357" r="4.8" fill="rgb(131,145,178)"/><circle cx="198.4" cy="357" r="3.1" fill="rgb(150,170,200)"/><circle cx="198.4" cy="357" r="2.5" fill="rgb(130,174,219)"/><circle cx="198.4" cy="357" r="1.5" fill="rgb(140,116,104)"/>
<circle cx="198.4" cy="370.1" r="5.6" fill="rgb(155,166,186)"/><circle cx="198.4" cy="370.1" r="4.8" fill="rgb(131,145,178)"/><circle cx="198.4" cy="370.1" r="3.1" fill="rgb(150,170,200)"/><circle cx="198.4" cy="370.1" r="2.5" fill="rgb(130,174,219)"/><circle cx="198.4" cy="370.1" r="1.5" fill="rgb(140,116,104)"/>
<circle cx="117.2" cy="467" r="5.6" fill="rgb(155,166,186)"/><circle cx="117.2" cy="467" r="4.8" fill="rgb(131,145,178)"/><circle cx="117.2" cy="467" r="3.1" fill="rgb(150,170,200)"/><circle cx="117.2" cy="467" r="2.5" fill="rgb(130,174,219)"/><circle cx="117.2" cy="467" r="1.5" fill="rgb(140,116,104)"/>
<circle cx="348.2" cy="292" r="5.6" fill="rgb(155,166,186)"/><circle cx="348.2" cy="292" r="4.8" fill="rgb(131,145,178)"/><circle cx="348.2" cy="292" r="3.1" fill="rgb(150,170,200)"/><circle cx="348.2" cy="292" r="2.5" fill="rgb(130,174,219)"/><circle cx="348.2" cy="292" r="1.5" fill="rgb(140,116,104)"/>
<circle cx="356.4" cy="307.2" r="5.6" fill="rgb(155,166,186)"/><circle cx="356.4" cy="307.2" r="4.8" fill="rgb(131,145,178)"/><circle cx="356.4" cy="307.2" r="3.1" fill="rgb(150,170,200)"/><circle cx="356.4" cy="307.2" r="2.5" fill="rgb(130,174,219)"/><circle cx="356.4" cy="307.2" r="1.5" fill="rgb(140,116,104)"/>
<circle cx="363.4" cy="314.3" r="5.6" fill="rgb(155,166,186)"/><circle cx="363.4" cy="314.3" r="4.8" fill="rgb(131,145,178)"/><circle cx="363.4" cy="314.3" r="3.1" fill="rgb(150,170,200)"/><circle cx="363.4" cy="314.3" r="2.5" fill="rgb(130,174,219)"/><circle cx="363.4" cy="314.3" r="1.5" fill="rgb(140,116,104)"/>
<circle cx="406.6" cy="352.8" r="5.6" fill="rgb(155,166,186)"/><circle cx="406.6" cy="352.8" r="4.8" fill="rgb(131,145,178)"/><circle cx="406.6" cy="352.8" r="3.1" fill="rgb(150,170,200)"/><circle cx="406.6" cy="352.8" r="2.5" fill="rgb(130,174,219)"/><circle cx="406.6" cy="352.8" r="1.5" fill="rgb(140,116,104)"/>
<circle cx="400.3" cy="399.9" r="5.6" fill="rgb(155,166,186)"/><circle cx="400.3" cy="399.9" r="4.8" fill="rgb(131,145,178)"/><circle cx="400.3" cy="399.9" r="3.1" fill="rgb(150,170,200)"/><circle cx="400.3" cy="399.9" r="2.5" fill="rgb(130,174,219)"/><circle cx="400.3" cy="399.9" r="1.5" fill="rgb(140,116,104)"/>
<circle cx="393.7" cy="416.8" r="5.6" fill="rgb(155,166,186)"/><circle cx="393.7" cy="416.8" r="4.8" fill="rgb(131,145,178)"/><circle cx="393.7" cy="416.8" r="3.1" fill="rgb(150,170,200)"/><circle cx="393.7" cy="416.8" r="2.5" fill="rgb(130,174,219)"/><circle cx="393.7" cy="416.8" r="1.5" fill="rgb(140,116,104)"/>
<circle cx="407.3" cy="416.8" r="5.6" fill="rgb(155,166,186)"/><circle cx="407.3" cy="416.8" r="4.8" fill="rgb(131,145,178)"/><circle cx="407.3" cy="416.8" r="3.1" fill="rgb(150,170,200)"/><circle cx="407.3" cy="416.8" r="2.5" fill="rgb(130,174,219)"/><circle cx="407.3" cy="416.8" r="1.5" fill="rgb(140,116,104)"/>
<circle cx="358.1" cy="471.3" r="5.6" fill="rgb(155,166,186)"/><circle cx="358.1" cy="471.3" r="4.8" fill="rgb(131,145,178)"/><circle cx="358.1" cy="471.3" r="3.1" fill="rgb(150,170,200)"/><circle cx="358.1" cy="471.3" r="2.5" fill="rgb(130,174,219)"/><circle cx="358.1" cy="471.3" r="1.5" fill="rgb(140,116,104)"/>
<circle cx="395.4" cy="510.8" r="5.6" fill="rgb(155,166,186)"/><circle cx="395.4" cy="510.8" r="4.8" fill="rgb(131,145,178)"/><circle cx="395.4" cy="510.8" r="3.1" fill="rgb(150,170,200)"/><circle cx="395.4" cy="510.8" r="2.5" fill="rgb(130,174,219)"/><circle cx="395.4" cy="510.8" r="1.5" fill="rgb(140,116,104)"/>
<circle cx="402.7" cy="521.3" r="5.6" fill="rgb(155,166,186)"/><circle cx="402.7" cy="521.3" r="4.8" fill="rgb(131,145,178)"/><circle cx="402.7" cy="521.3" r="3.1" fill="rgb(150,170,200)"/><circle cx="402.7" cy="521.3" r="2.5" fill="rgb(130,174,219)"/><circle cx="402.7" cy="521.3" r="1.5" fill="rgb(140,116,104)"/>
<circle cx="443" cy="602.5" r="5.6" fill="rgb(155,166,186)"/><circle cx="443" cy="602.5" r="4.8" fill="rgb(131,145,178)"/><circle cx="443" cy="602.5" r="3.1" fill="rgb(150,170,200)"/><circle cx="443" cy="602.5" r="2.5" fill="rgb(130,174,219)"/><circle cx="443" cy="602.5" r="1.5" fill="rgb(140,116,104)"/>
<circle cx="299.8" cy="546.8" r="5.6" fill="rgb(155,166,186)"/><circle cx="299.8" cy="546.8" r="4.8" fill="rgb(131,145,178)"/><circle cx="299.8" cy="546.8" r="3.1" fill="rgb(150,170,200)"/><circle cx="299.8" cy="546.8" r="2.5" fill="rgb(130,174,219)"/><circle cx="299.8" cy="546.8" r="1.5" fill="rgb(140,116,104)"/>
<circle cx="505.4" cy="56" r="5.6" fill="rgb(155,166,186)"/><circle cx="505.4" cy="56" r="4.8" fill="rgb(131,145,178)"/><circle cx="505.4" cy="56" r="3.1" fill="rgb(150,170,200)"/><circle cx="505.4" cy="56" r="2.5" fill="rgb(130,174,219)"/><circle cx="505.4" cy="56" r="1.5" fill="rgb(140,116,104)"/>
<circle cx="507.5" cy="181.25" r="5.6" fill="rgb(155,166,186)"/><circle cx="507.5" cy="181.25" r="4.8" fill="rgb(131,145,178)"/><circle cx="507.5" cy="181.25" r="3.1" fill="rgb(150,170,200)"/><circle cx="507.5" cy="181.25" r="2.5" fill="rgb(130,174,219)"/><circle cx="507.5" cy="181.25" r="1.5" fill="rgb(140,116,104)"/>
<circle cx="507.5" cy="200" r="5.6" fill="rgb(155,166,186)"/><circle cx="507.5" cy="200" r="4.8" fill="rgb(131,145,178)"/><circle cx="507.5" cy="200" r="3.1" fill="rgb(150,170,200)"/><circle cx="507.5" cy="200" r="2.5" fill="rgb(130,174,219)"/><circle cx="507.5" cy="200" r="1.5" fill="rgb(140,116,104)"/>
<rect x="87.70" y="-2" width="7.5" height="27" fill="rgb(128,145,182)"/>
<rect x="77.60" y="-4.00" width="11.40" height="12.00" rx="1.80" fill="rgb(128,145,182)"/>
<rect x="78.60" y="-3.00" width="9.40" height="10.00" rx="0.8" fill="rgb(236,210,140)"/>
<rect x="93.80" y="-4.00" width="11.70" height="12.00" rx="1.80" fill="rgb(128,145,182)"/>
<rect x="94.80" y="-3.00" width="9.70" height="10.00" rx="0.8" fill="rgb(236,210,140)"/>
<rect x="77.60" y="11.30" width="11.40" height="12.70" rx="1.80" fill="rgb(128,145,182)"/>
<rect x="78.60" y="12.30" width="9.40" height="10.70" rx="0.8" fill="rgb(236,210,140)"/>
<rect x="93.80" y="11.30" width="11.70" height="12.70" rx="1.80" fill="rgb(128,145,182)"/>
<rect x="94.80" y="12.30" width="9.70" height="10.70" rx="0.8" fill="rgb(236,210,140)"/>
<path d="M91.40,6.8 l3.2,3.2 l-3.2,3.2 l-3.2,-3.2 z" fill="rgb(130,174,219)"/>
<path d="M76.20,-2 V8.2 M107.00,-2 V8.2 M76.20,8.2 H87.70 M95.20,8.2 H107.00" stroke="#fff" stroke-width="1.6" fill="none"/>
<path d="M87.70,10.7 H76.20 V25.6 H87.70 M95.20,10.7 H107.00 V25.6 H95.20" stroke="#fff" stroke-width="1.6" fill="none"/>
<rect x="211.80" y="-2" width="7.5" height="27" fill="rgb(128,145,182)"/>
<rect x="201.70" y="-4.00" width="11.40" height="12.00" rx="1.80" fill="rgb(128,145,182)"/>
<rect x="202.70" y="-3.00" width="9.40" height="10.00" rx="0.8" fill="rgb(236,210,140)"/>
<rect x="217.90" y="-4.00" width="11.70" height="12.00" rx="1.80" fill="rgb(128,145,182)"/>
<rect x="218.90" y="-3.00" width="9.70" height="10.00" rx="0.8" fill="rgb(236,210,140)"/>
<rect x="201.70" y="11.30" width="11.40" height="12.70" rx="1.80" fill="rgb(128,145,182)"/>
<rect x="202.70" y="12.30" width="9.40" height="10.70" rx="0.8" fill="rgb(236,210,140)"/>
<rect x="217.90" y="11.30" width="11.70" height="12.70" rx="1.80" fill="rgb(128,145,182)"/>
<rect x="218.90" y="12.30" width="9.70" height="10.70" rx="0.8" fill="rgb(236,210,140)"/>
<path d="M215.50,6.8 l3.2,3.2 l-3.2,3.2 l-3.2,-3.2 z" fill="rgb(130,174,219)"/>
<path d="M200.30,-2 V8.2 M231.10,-2 V8.2 M200.30,8.2 H211.80 M219.30,8.2 H231.10" stroke="#fff" stroke-width="1.6" fill="none"/>
<path d="M211.80,10.7 H200.30 V25.6 H211.80 M219.30,10.7 H231.10 V25.6 H219.30" stroke="#fff" stroke-width="1.6" fill="none"/>
<rect x="251.20" y="-2" width="7.5" height="27" fill="rgb(128,145,182)"/>
<rect x="241.10" y="-4.00" width="11.40" height="12.00" rx="1.80" fill="rgb(128,145,182)"/>
<rect x="242.10" y="-3.00" width="9.40" height="10.00" rx="0.8" fill="rgb(236,210,140)"/>
<rect x="257.30" y="-4.00" width="11.70" height="12.00" rx="1.80" fill="rgb(128,145,182)"/>
<rect x="258.30" y="-3.00" width="9.70" height="10.00" rx="0.8" fill="rgb(236,210,140)"/>
<rect x="241.10" y="11.30" width="11.40" height="12.70" rx="1.80" fill="rgb(128,145,182)"/>
<rect x="242.10" y="12.30" width="9.40" height="10.70" rx="0.8" fill="rgb(236,210,140)"/>
<rect x="257.30" y="11.30" width="11.70" height="12.70" rx="1.80" fill="rgb(128,145,182)"/>
<rect x="258.30" y="12.30" width="9.70" height="10.70" rx="0.8" fill="rgb(236,210,140)"/>
<path d="M254.90,6.8 l3.2,3.2 l-3.2,3.2 l-3.2,-3.2 z" fill="rgb(130,174,219)"/>
<path d="M239.70,-2 V8.2 M270.50,-2 V8.2 M239.70,8.2 H251.20 M258.70,8.2 H270.50" stroke="#fff" stroke-width="1.6" fill="none"/>
<path d="M251.20,10.7 H239.70 V25.6 H251.20 M258.70,10.7 H270.50 V25.6 H258.70" stroke="#fff" stroke-width="1.6" fill="none"/>
<rect x="371.50" y="-2" width="7.5" height="27" fill="rgb(128,145,182)"/>
<rect x="361.40" y="-4.00" width="11.40" height="12.00" rx="1.80" fill="rgb(128,145,182)"/>
<rect x="362.40" y="-3.00" width="9.40" height="10.00" rx="0.8" fill="rgb(236,210,140)"/>
<rect x="377.60" y="-4.00" width="11.70" height="12.00" rx="1.80" fill="rgb(128,145,182)"/>
<rect x="378.60" y="-3.00" width="9.70" height="10.00" rx="0.8" fill="rgb(236,210,140)"/>
<rect x="361.40" y="11.30" width="11.40" height="12.70" rx="1.80" fill="rgb(128,145,182)"/>
<rect x="362.40" y="12.30" width="9.40" height="10.70" rx="0.8" fill="rgb(236,210,140)"/>
<rect x="377.60" y="11.30" width="11.70" height="12.70" rx="1.80" fill="rgb(128,145,182)"/>
<rect x="378.60" y="12.30" width="9.70" height="10.70" rx="0.8" fill="rgb(236,210,140)"/>
<path d="M375.20,6.8 l3.2,3.2 l-3.2,3.2 l-3.2,-3.2 z" fill="rgb(130,174,219)"/>
<path d="M360.00,-2 V8.2 M390.80,-2 V8.2 M360.00,8.2 H371.50 M379.00,8.2 H390.80" stroke="#fff" stroke-width="1.6" fill="none"/>
<path d="M371.50,10.7 H360.00 V25.6 H371.50 M379.00,10.7 H390.80 V25.6 H379.00" stroke="#fff" stroke-width="1.6" fill="none"/>
<rect x="408.50" y="-2" width="7.5" height="27" fill="rgb(128,145,182)"/>
<rect x="398.40" y="-4.00" width="11.40" height="12.00" rx="1.80" fill="rgb(128,145,182)"/>
<rect x="399.40" y="-3.00" width="9.40" height="10.00" rx="0.8" fill="rgb(236,210,140)"/>
<rect x="414.60" y="-4.00" width="11.70" height="12.00" rx="1.80" fill="rgb(128,145,182)"/>
<rect x="415.60" y="-3.00" width="9.70" height="10.00" rx="0.8" fill="rgb(236,210,140)"/>
<rect x="398.40" y="11.30" width="11.40" height="12.70" rx="1.80" fill="rgb(128,145,182)"/>
<rect x="399.40" y="12.30" width="9.40" height="10.70" rx="0.8" fill="rgb(236,210,140)"/>
<rect x="414.60" y="11.30" width="11.70" height="12.70" rx="1.80" fill="rgb(128,145,182)"/>
<rect x="415.60" y="12.30" width="9.70" height="10.70" rx="0.8" fill="rgb(236,210,140)"/>
<path d="M412.20,6.8 l3.2,3.2 l-3.2,3.2 l-3.2,-3.2 z" fill="rgb(130,174,219)"/>
<path d="M397.00,-2 V8.2 M427.80,-2 V8.2 M397.00,8.2 H408.50 M416.00,8.2 H427.80" stroke="#fff" stroke-width="1.6" fill="none"/>
<path d="M408.50,10.7 H397.00 V25.6 H408.50 M416.00,10.7 H427.80 V25.6 H416.00" stroke="#fff" stroke-width="1.6" fill="none"/>
<rect x="533.70" y="-2" width="7.5" height="27" fill="rgb(128,145,182)"/>
<rect x="523.60" y="-4.00" width="11.40" height="12.00" rx="1.80" fill="rgb(128,145,182)"/>
<rect x="524.60" y="-3.00" width="9.40" height="10.00" rx="0.8" fill="rgb(236,210,140)"/>
<rect x="539.80" y="-4.00" width="11.70" height="12.00" rx="1.80" fill="rgb(128,145,182)"/>
<rect x="540.80" y="-3.00" width="9.70" height="10.00" rx="0.8" fill="rgb(236,210,140)"/>
<rect x="523.60" y="11.30" width="11.40" height="12.70" rx="1.80" fill="rgb(128,145,182)"/>
<rect x="524.60" y="12.30" width="9.40" height="10.70" rx="0.8" fill="rgb(236,210,140)"/>
<rect x="539.80" y="11.30" width="11.70" height="12.70" rx="1.80" fill="rgb(128,145,182)"/>
<rect x="540.80" y="12.30" width="9.70" height="10.70" rx="0.8" fill="rgb(236,210,140)"/>
<path d="M537.40,6.8 l3.2,3.2 l-3.2,3.2 l-3.2,-3.2 z" fill="rgb(130,174,219)"/>
<path d="M522.20,-2 V8.2 M553.00,-2 V8.2 M522.20,8.2 H533.70 M541.20,8.2 H553.00" stroke="#fff" stroke-width="1.6" fill="none"/>
<path d="M533.70,10.7 H522.20 V25.6 H533.70 M541.20,10.7 H553.00 V25.6 H541.20" stroke="#fff" stroke-width="1.6" fill="none"/>
<rect x="112.20" y="-4" width="22.20" height="49.5" rx="4" fill="rgb(128,145,182)"/>
<ellipse cx="112.20" cy="7.5" rx="4.2" ry="3.1" fill="rgb(130,174,219)"/>
<ellipse cx="134.40" cy="7.5" rx="4.2" ry="3.1" fill="rgb(130,174,219)"/>
<ellipse cx="112.20" cy="20.9" rx="4.2" ry="3.1" fill="rgb(130,174,219)"/>
<ellipse cx="134.40" cy="20.9" rx="4.2" ry="3.1" fill="rgb(130,174,219)"/>
<ellipse cx="112.20" cy="34.3" rx="4.2" ry="3.1" fill="rgb(130,174,219)"/>
<ellipse cx="134.40" cy="34.3" rx="4.2" ry="3.1" fill="rgb(130,174,219)"/>
<rect x="173.40" y="-4" width="22.00" height="49.5" rx="4" fill="rgb(128,145,182)"/>
<ellipse cx="173.40" cy="7.5" rx="4.2" ry="3.1" fill="rgb(130,174,219)"/>
<ellipse cx="195.40" cy="7.5" rx="4.2" ry="3.1" fill="rgb(130,174,219)"/>
<ellipse cx="173.40" cy="20.9" rx="4.2" ry="3.1" fill="rgb(130,174,219)"/>
<ellipse cx="195.40" cy="20.9" rx="4.2" ry="3.1" fill="rgb(130,174,219)"/>
<ellipse cx="173.40" cy="34.3" rx="4.2" ry="3.1" fill="rgb(130,174,219)"/>
<ellipse cx="195.40" cy="34.3" rx="4.2" ry="3.1" fill="rgb(130,174,219)"/>
<rect x="112.00" y="-4.10" width="22.60" height="9.8" rx="4.9" fill="rgb(128,145,182)"/>
<rect x="113.40" y="-2.70" width="19.80" height="7" rx="3.5" fill="rgb(236,210,140)"/>
<rect x="173.20" y="-4.10" width="22.40" height="9.8" rx="4.9" fill="rgb(128,145,182)"/>
<rect x="174.60" y="-2.70" width="19.60" height="7" rx="3.5" fill="rgb(236,210,140)"/>
<rect x="112.00" y="9.30" width="22.60" height="9.8" rx="4.9" fill="rgb(128,145,182)"/>
<rect x="113.40" y="10.70" width="19.80" height="7" rx="3.5" fill="rgb(236,210,140)"/>
<rect x="173.20" y="9.30" width="22.40" height="9.8" rx="4.9" fill="rgb(128,145,182)"/>
<rect x="174.60" y="10.70" width="19.60" height="7" rx="3.5" fill="rgb(236,210,140)"/>
<rect x="112.00" y="22.70" width="22.60" height="9.8" rx="4.9" fill="rgb(128,145,182)"/>
<rect x="113.40" y="24.10" width="19.80" height="7" rx="3.5" fill="rgb(236,210,140)"/>
<rect x="173.20" y="22.70" width="22.40" height="9.8" rx="4.9" fill="rgb(128,145,182)"/>
<rect x="174.60" y="24.10" width="19.60" height="7" rx="3.5" fill="rgb(236,210,140)"/>
<rect x="112.00" y="36.10" width="22.60" height="9.8" rx="4.9" fill="rgb(128,145,182)"/>
<rect x="113.40" y="37.50" width="19.80" height="7" rx="3.5" fill="rgb(236,210,140)"/>
<rect x="173.20" y="36.10" width="22.40" height="9.8" rx="4.9" fill="rgb(128,145,182)"/>
<rect x="174.60" y="37.50" width="19.60" height="7" rx="3.5" fill="rgb(236,210,140)"/>
<path d="M135.3,-2 V47.3 H173.0 V-2" stroke="#fff" stroke-width="1.6" fill="none"/>
<rect x="272.80" y="-4" width="22.20" height="49.5" rx="4" fill="rgb(128,145,182)"/>
<ellipse cx="272.80" cy="7.5" rx="4.2" ry="3.1" fill="rgb(130,174,219)"/>
<ellipse cx="295.00" cy="7.5" rx="4.2" ry="3.1" fill="rgb(130,174,219)"/>
<ellipse cx="272.80" cy="20.9" rx="4.2" ry="3.1" fill="rgb(130,174,219)"/>
<ellipse cx="295.00" cy="20.9" rx="4.2" ry="3.1" fill="rgb(130,174,219)"/>
<ellipse cx="272.80" cy="34.3" rx="4.2" ry="3.1" fill="rgb(130,174,219)"/>
<ellipse cx="295.00" cy="34.3" rx="4.2" ry="3.1" fill="rgb(130,174,219)"/>
<rect x="334.20" y="-4" width="22.00" height="49.5" rx="4" fill="rgb(128,145,182)"/>
<ellipse cx="334.20" cy="7.5" rx="4.2" ry="3.1" fill="rgb(130,174,219)"/>
<ellipse cx="356.20" cy="7.5" rx="4.2" ry="3.1" fill="rgb(130,174,219)"/>
<ellipse cx="334.20" cy="20.9" rx="4.2" ry="3.1" fill="rgb(130,174,219)"/>
<ellipse cx="356.20" cy="20.9" rx="4.2" ry="3.1" fill="rgb(130,174,219)"/>
<ellipse cx="334.20" cy="34.3" rx="4.2" ry="3.1" fill="rgb(130,174,219)"/>
<ellipse cx="356.20" cy="34.3" rx="4.2" ry="3.1" fill="rgb(130,174,219)"/>
<rect x="272.60" y="-4.10" width="22.60" height="9.8" rx="4.9" fill="rgb(128,145,182)"/>
<rect x="274.00" y="-2.70" width="19.80" height="7" rx="3.5" fill="rgb(236,210,140)"/>
<rect x="334.00" y="-4.10" width="22.40" height="9.8" rx="4.9" fill="rgb(128,145,182)"/>
<rect x="335.40" y="-2.70" width="19.60" height="7" rx="3.5" fill="rgb(236,210,140)"/>
<rect x="272.60" y="9.30" width="22.60" height="9.8" rx="4.9" fill="rgb(128,145,182)"/>
<rect x="274.00" y="10.70" width="19.80" height="7" rx="3.5" fill="rgb(236,210,140)"/>
<rect x="334.00" y="9.30" width="22.40" height="9.8" rx="4.9" fill="rgb(128,145,182)"/>
<rect x="335.40" y="10.70" width="19.60" height="7" rx="3.5" fill="rgb(236,210,140)"/>
<rect x="272.60" y="22.70" width="22.60" height="9.8" rx="4.9" fill="rgb(128,145,182)"/>
<rect x="274.00" y="24.10" width="19.80" height="7" rx="3.5" fill="rgb(236,210,140)"/>
<rect x="334.00" y="22.70" width="22.40" height="9.8" rx="4.9" fill="rgb(128,145,182)"/>
<rect x="335.40" y="24.10" width="19.60" height="7" rx="3.5" fill="rgb(236,210,140)"/>
<rect x="272.60" y="36.10" width="22.60" height="9.8" rx="4.9" fill="rgb(128,145,182)"/>
<rect x="274.00" y="37.50" width="19.80" height="7" rx="3.5" fill="rgb(236,210,140)"/>
<rect x="334.00" y="36.10" width="22.40" height="9.8" rx="4.9" fill="rgb(128,145,182)"/>
<rect x="335.40" y="37.50" width="19.60" height="7" rx="3.5" fill="rgb(236,210,140)"/>
<path d="M295.4,-2 V47.3 H333.3 V-2" stroke="#fff" stroke-width="1.6" fill="none"/>
<rect x="433.40" y="-4" width="22.20" height="49.5" rx="4" fill="rgb(128,145,182)"/>
<ellipse cx="433.40" cy="7.5" rx="4.2" ry="3.1" fill="rgb(130,174,219)"/>
<ellipse cx="455.60" cy="7.5" rx="4.2" ry="3.1" fill="rgb(130,174,219)"/>
<ellipse cx="433.40" cy="20.9" rx="4.2" ry="3.1" fill="rgb(130,174,219)"/>
<ellipse cx="455.60" cy="20.9" rx="4.2" ry="3.1" fill="rgb(130,174,219)"/>
<ellipse cx="433.40" cy="34.3" rx="4.2" ry="3.1" fill="rgb(130,174,219)"/>
<ellipse cx="455.60" cy="34.3" rx="4.2" ry="3.1" fill="rgb(130,174,219)"/>
<rect x="494.70" y="-4" width="22.00" height="49.5" rx="4" fill="rgb(128,145,182)"/>
<ellipse cx="494.70" cy="7.5" rx="4.2" ry="3.1" fill="rgb(130,174,219)"/>
<ellipse cx="516.70" cy="7.5" rx="4.2" ry="3.1" fill="rgb(130,174,219)"/>
<ellipse cx="494.70" cy="20.9" rx="4.2" ry="3.1" fill="rgb(130,174,219)"/>
<ellipse cx="516.70" cy="20.9" rx="4.2" ry="3.1" fill="rgb(130,174,219)"/>
<ellipse cx="494.70" cy="34.3" rx="4.2" ry="3.1" fill="rgb(130,174,219)"/>
<ellipse cx="516.70" cy="34.3" rx="4.2" ry="3.1" fill="rgb(130,174,219)"/>
<rect x="433.20" y="-4.10" width="22.60" height="9.8" rx="4.9" fill="rgb(128,145,182)"/>
<rect x="434.60" y="-2.70" width="19.80" height="7" rx="3.5" fill="rgb(236,210,140)"/>
<rect x="494.50" y="-4.10" width="22.40" height="9.8" rx="4.9" fill="rgb(128,145,182)"/>
<rect x="495.90" y="-2.70" width="19.60" height="7" rx="3.5" fill="rgb(236,210,140)"/>
<rect x="433.20" y="9.30" width="22.60" height="9.8" rx="4.9" fill="rgb(128,145,182)"/>
<rect x="434.60" y="10.70" width="19.80" height="7" rx="3.5" fill="rgb(236,210,140)"/>
<rect x="494.50" y="9.30" width="22.40" height="9.8" rx="4.9" fill="rgb(128,145,182)"/>
<rect x="495.90" y="10.70" width="19.60" height="7" rx="3.5" fill="rgb(236,210,140)"/>
<rect x="433.20" y="22.70" width="22.60" height="9.8" rx="4.9" fill="rgb(128,145,182)"/>
<rect x="434.60" y="24.10" width="19.80" height="7" rx="3.5" fill="rgb(236,210,140)"/>
<rect x="494.50" y="22.70" width="22.40" height="9.8" rx="4.9" fill="rgb(128,145,182)"/>
<rect x="495.90" y="24.10" width="19.60" height="7" rx="3.5" fill="rgb(236,210,140)"/>
<rect x="433.20" y="36.10" width="22.60" height="9.8" rx="4.9" fill="rgb(128,145,182)"/>
<rect x="434.60" y="37.50" width="19.80" height="7" rx="3.5" fill="rgb(236,210,140)"/>
<rect x="494.50" y="36.10" width="22.40" height="9.8" rx="4.9" fill="rgb(128,145,182)"/>
<rect x="495.90" y="37.50" width="19.60" height="7" rx="3.5" fill="rgb(236,210,140)"/>
<path d="M455.7,-2 V47.3 H493.6 V-2" stroke="#fff" stroke-width="1.6" fill="none"/>
<rect x="252.9" y="565.7" width="20.50" height="11.00" rx="1.2" fill="none" stroke="#fff" stroke-width="1.6"/>
<rect x="253.70" y="566.60" width="9.75" height="9.20" rx="1.70" fill="rgb(128,145,182)"/>
<rect x="254.60" y="567.50" width="7.95" height="7.40" rx="0.8" fill="rgb(236,210,140)"/>
<rect x="262.85" y="566.60" width="9.75" height="9.20" rx="1.70" fill="rgb(128,145,182)"/>
<rect x="263.75" y="567.50" width="7.95" height="7.40" rx="0.8" fill="rgb(236,210,140)"/>
<rect x="250.4" y="581.6" width="25.00" height="11.70" rx="1.2" fill="none" stroke="#fff" stroke-width="1.6"/>
<rect x="251.20" y="582.50" width="12.00" height="9.90" rx="1.70" fill="rgb(128,145,182)"/>
<rect x="252.10" y="583.40" width="10.20" height="8.10" rx="0.8" fill="rgb(236,210,140)"/>
<rect x="262.60" y="582.50" width="12.00" height="9.90" rx="1.70" fill="rgb(128,145,182)"/>
<rect x="263.50" y="583.40" width="10.20" height="8.10" rx="0.8" fill="rgb(236,210,140)"/>
<rect x="296.1" y="587.0" width="25.20" height="11.70" rx="1.2" fill="none" stroke="#fff" stroke-width="1.6"/>
<rect x="296.90" y="587.90" width="12.10" height="9.90" rx="1.70" fill="rgb(128,145,182)"/>
<rect x="297.80" y="588.80" width="10.30" height="8.10" rx="0.8" fill="rgb(236,210,140)"/>
<rect x="308.40" y="587.90" width="12.10" height="9.90" rx="1.70" fill="rgb(128,145,182)"/>
<rect x="309.30" y="588.80" width="10.30" height="8.10" rx="0.8" fill="rgb(236,210,140)"/>
<rect x="360.0" y="587.0" width="25.30" height="11.70" rx="1.2" fill="none" stroke="#fff" stroke-width="1.6"/>
<rect x="360.80" y="587.90" width="12.15" height="9.90" rx="1.70" fill="rgb(128,145,182)"/>
<rect x="361.70" y="588.80" width="10.35" height="8.10" rx="0.8" fill="rgb(236,210,140)"/>
<rect x="372.35" y="587.90" width="12.15" height="9.90" rx="1.70" fill="rgb(128,145,182)"/>
<rect x="373.25" y="588.80" width="10.35" height="8.10" rx="0.8" fill="rgb(236,210,140)"/>
<rect x="211.3" y="599.4" width="24.90" height="11.50" rx="1.2" fill="none" stroke="#fff" stroke-width="1.6"/>
<rect x="212.10" y="600.30" width="11.95" height="9.70" rx="1.70" fill="rgb(128,145,182)"/>
<rect x="213.00" y="601.20" width="10.15" height="7.90" rx="0.8" fill="rgb(236,210,140)"/>
<rect x="223.45" y="600.30" width="11.95" height="9.70" rx="1.70" fill="rgb(128,145,182)"/>
<rect x="224.35" y="601.20" width="10.15" height="7.90" rx="0.8" fill="rgb(236,210,140)"/>
<rect x="243.80" y="548.30" width="13.00" height="11.00" rx="1.80" fill="rgb(128,145,182)"/>
<rect x="244.80" y="549.30" width="11.00" height="9.00" rx="0.8" fill="rgb(236,210,140)"/>
<rect x="269.50" y="548.30" width="12.20" height="11.00" rx="1.80" fill="rgb(128,145,182)"/>
<rect x="270.50" y="549.30" width="10.20" height="9.00" rx="0.8" fill="rgb(236,210,140)"/>
<rect x="252.9" y="545.4" width="21.20" height="17.10" rx="1.2" fill="none" stroke="#fff" stroke-width="1.6"/>
<line x1="266.8" y1="545.4" x2="266.8" y2="562.5" stroke="#fff" stroke-width="1.5"/>
<rect x="328.9" y="555.5" width="19.50" height="42.10" rx="1.5" fill="none" stroke="#fff" stroke-width="1.6"/>
<rect x="329.80" y="556.50" width="17.70" height="18.50" rx="2.00" fill="rgb(128,145,182)"/>
<rect x="330.80" y="557.50" width="15.70" height="16.50" rx="1" fill="rgb(236,210,140)"/>
<rect x="329.80" y="578.20" width="17.70" height="18.40" rx="2.00" fill="rgb(128,145,182)"/>
<rect x="330.80" y="579.20" width="15.70" height="16.40" rx="1" fill="rgb(236,210,140)"/>
<rect x="194.90" y="616.80" width="15.40" height="8.60" rx="1.60" fill="rgb(128,145,182)"/>
<rect x="195.90" y="617.80" width="13.40" height="6.60" rx="0.6" fill="rgb(236,210,140)"/>
<rect x="194.90" y="627.00" width="15.40" height="8.90" rx="1.60" fill="rgb(128,145,182)"/>
<rect x="195.90" y="628.00" width="13.40" height="6.90" rx="0.6" fill="rgb(236,210,140)"/>
<rect x="194.90" y="636.80" width="15.40" height="9.20" rx="1.60" fill="rgb(128,145,182)"/>
<rect x="195.90" y="637.80" width="13.40" height="7.20" rx="0.6" fill="rgb(236,210,140)"/>
<rect x="223.00" y="616.80" width="16.70" height="8.60" rx="1.60" fill="rgb(128,145,182)"/>
<rect x="224.00" y="617.80" width="14.70" height="6.60" rx="0.6" fill="rgb(236,210,140)"/>
<rect x="223.00" y="636.80" width="16.70" height="9.20" rx="1.60" fill="rgb(128,145,182)"/>
<rect x="224.00" y="637.80" width="14.70" height="7.20" rx="0.6" fill="rgb(236,210,140)"/>
<path d="M224,615.8 H208 V641 M225.2,628 V641" fill="none" stroke="#fff" stroke-width="1.5"/>
<rect x="251.70" y="608.50" width="26.10" height="15.80" rx="2.00" fill="rgb(128,145,182)"/>
<rect x="252.90" y="609.70" width="23.70" height="13.40" rx="0.8" fill="rgb(236,210,140)"/>
<rect x="251.70" y="634.20" width="26.10" height="13.00" rx="2.00" fill="rgb(128,145,182)"/>
<rect x="252.90" y="635.40" width="23.70" height="10.60" rx="0.8" fill="rgb(236,210,140)"/>
<rect x="280.2" y="605.5" width="35.50" height="54.50" rx="1.2" fill="none" stroke="#fff" stroke-width="1.6"/>
<circle cx="284.6" cy="613.8" r="2.6" fill="none" stroke="#fff" stroke-width="1.4"/>
<rect x="317.80" y="620.80" width="26.20" height="26.40" rx="2.00" fill="rgb(128,145,182)"/>
<rect x="319.00" y="622.00" width="23.80" height="24.00" rx="0.8" fill="rgb(236,210,140)"/>
<rect x="396.60" y="619.60" width="24.90" height="27.60" rx="2.00" fill="rgb(128,145,182)"/>
<rect x="397.80" y="620.80" width="22.50" height="25.20" rx="0.8" fill="rgb(236,210,140)"/>
<rect x="430.80" y="619.60" width="24.90" height="27.60" rx="2.00" fill="rgb(128,145,182)"/>
<rect x="432.00" y="620.80" width="22.50" height="25.20" rx="0.8" fill="rgb(236,210,140)"/>
<rect x="358.7" y="603" width="23.30" height="57.00" rx="1.2" fill="none" stroke="#fff" stroke-width="1.6"/>
<rect x="371.00" y="604.00" width="13.00" height="11.70" rx="1.60" fill="rgb(128,145,182)"/>
<rect x="372.00" y="605.00" width="11.00" height="9.70" rx="0.6" fill="rgb(236,210,140)"/>
<rect x="349.00" y="614.00" width="13.00" height="12.00" rx="1.60" fill="rgb(128,145,182)"/>
<rect x="350.00" y="615.00" width="11.00" height="10.00" rx="0.6" fill="rgb(236,210,140)"/>
<rect x="371.00" y="624.70" width="13.00" height="11.80" rx="1.60" fill="rgb(128,145,182)"/>
<rect x="372.00" y="625.70" width="11.00" height="9.80" rx="0.6" fill="rgb(236,210,140)"/>
<g transform="translate(326.5,369.0) rotate(45)">
<rect x="-26.5" y="-26.5" width="53" height="53" rx="4" fill="rgb(128,145,182)"/>
<rect x="-25.2" y="-25.2" width="50.4" height="50.4" rx="3" fill="rgb(236,210,140)"/>
<g transform="rotate(0)">
<rect x="-28.30" y="-40.2" width="4.6" height="10.6" rx="2.3" fill="rgb(128,145,182)"/>
<rect x="-27.50" y="-39.4" width="3" height="9" rx="1.5" fill="rgb(236,210,140)"/>
<rect x="-23.10" y="-40.2" width="4.6" height="10.6" rx="2.3" fill="rgb(128,145,182)"/>
<rect x="-22.30" y="-39.4" width="3" height="9" rx="1.5" fill="rgb(236,210,140)"/>
<rect x="-17.90" y="-40.2" width="4.6" height="10.6" rx="2.3" fill="rgb(128,145,182)"/>
<rect x="-17.10" y="-39.4" width="3" height="9" rx="1.5" fill="rgb(236,210,140)"/>
<rect x="-12.70" y="-40.2" width="4.6" height="10.6" rx="2.3" fill="rgb(128,145,182)"/>
<rect x="-11.90" y="-39.4" width="3" height="9" rx="1.5" fill="rgb(236,210,140)"/>
<rect x="-7.50" y="-40.2" width="4.6" height="10.6" rx="2.3" fill="rgb(128,145,182)"/>
<rect x="-6.70" y="-39.4" width="3" height="9" rx="1.5" fill="rgb(236,210,140)"/>
<rect x="-2.30" y="-40.2" width="4.6" height="10.6" rx="2.3" fill="rgb(128,145,182)"/>
<rect x="-1.50" y="-39.4" width="3" height="9" rx="1.5" fill="rgb(236,210,140)"/>
<rect x="2.90" y="-40.2" width="4.6" height="10.6" rx="2.3" fill="rgb(128,145,182)"/>
<rect x="3.70" y="-39.4" width="3" height="9" rx="1.5" fill="rgb(236,210,140)"/>
<rect x="8.10" y="-40.2" width="4.6" height="10.6" rx="2.3" fill="rgb(128,145,182)"/>
<rect x="8.90" y="-39.4" width="3" height="9" rx="1.5" fill="rgb(236,210,140)"/>
<rect x="13.30" y="-40.2" width="4.6" height="10.6" rx="2.3" fill="rgb(128,145,182)"/>
<rect x="14.10" y="-39.4" width="3" height="9" rx="1.5" fill="rgb(236,210,140)"/>
<rect x="18.50" y="-40.2" width="4.6" height="10.6" rx="2.3" fill="rgb(128,145,182)"/>
<rect x="19.30" y="-39.4" width="3" height="9" rx="1.5" fill="rgb(236,210,140)"/>
<rect x="23.70" y="-40.2" width="4.6" height="10.6" rx="2.3" fill="rgb(128,145,182)"/>
<rect x="24.50" y="-39.4" width="3" height="9" rx="1.5" fill="rgb(236,210,140)"/>
</g>
<g transform="rotate(90)">
<rect x="-28.30" y="-40.2" width="4.6" height="10.6" rx="2.3" fill="rgb(128,145,182)"/>
<rect x="-27.50" y="-39.4" width="3" height="9" rx="1.5" fill="rgb(236,210,140)"/>
<rect x="-23.10" y="-40.2" width="4.6" height="10.6" rx="2.3" fill="rgb(128,145,182)"/>
<rect x="-22.30" y="-39.4" width="3" height="9" rx="1.5" fill="rgb(236,210,140)"/>
<rect x="-17.90" y="-40.2" width="4.6" height="10.6" rx="2.3" fill="rgb(128,145,182)"/>
<rect x="-17.10" y="-39.4" width="3" height="9" rx="1.5" fill="rgb(236,210,140)"/>
<rect x="-12.70" y="-40.2" width="4.6" height="10.6" rx="2.3" fill="rgb(128,145,182)"/>
<rect x="-11.90" y="-39.4" width="3" height="9" rx="1.5" fill="rgb(236,210,140)"/>
<rect x="-7.50" y="-40.2" width="4.6" height="10.6" rx="2.3" fill="rgb(128,145,182)"/>
<rect x="-6.70" y="-39.4" width="3" height="9" rx="1.5" fill="rgb(236,210,140)"/>
<rect x="-2.30" y="-40.2" width="4.6" height="10.6" rx="2.3" fill="rgb(128,145,182)"/>
<rect x="-1.50" y="-39.4" width="3" height="9" rx="1.5" fill="rgb(236,210,140)"/>
<rect x="2.90" y="-40.2" width="4.6" height="10.6" rx="2.3" fill="rgb(128,145,182)"/>
<rect x="3.70" y="-39.4" width="3" height="9" rx="1.5" fill="rgb(236,210,140)"/>
<rect x="8.10" y="-40.2" width="4.6" height="10.6" rx="2.3" fill="rgb(128,145,182)"/>
<rect x="8.90" y="-39.4" width="3" height="9" rx="1.5" fill="rgb(236,210,140)"/>
<rect x="13.30" y="-40.2" width="4.6" height="10.6" rx="2.3" fill="rgb(128,145,182)"/>
<rect x="14.10" y="-39.4" width="3" height="9" rx="1.5" fill="rgb(236,210,140)"/>
<rect x="18.50" y="-40.2" width="4.6" height="10.6" rx="2.3" fill="rgb(128,145,182)"/>
<rect x="19.30" y="-39.4" width="3" height="9" rx="1.5" fill="rgb(236,210,140)"/>
<rect x="23.70" y="-40.2" width="4.6" height="10.6" rx="2.3" fill="rgb(128,145,182)"/>
<rect x="24.50" y="-39.4" width="3" height="9" rx="1.5" fill="rgb(236,210,140)"/>
</g>
<g transform="rotate(180)">
<rect x="-28.30" y="-40.2" width="4.6" height="10.6" rx="2.3" fill="rgb(128,145,182)"/>
<rect x="-27.50" y="-39.4" width="3" height="9" rx="1.5" fill="rgb(236,210,140)"/>
<rect x="-23.10" y="-40.2" width="4.6" height="10.6" rx="2.3" fill="rgb(128,145,182)"/>
<rect x="-22.30" y="-39.4" width="3" height="9" rx="1.5" fill="rgb(236,210,140)"/>
<rect x="-17.90" y="-40.2" width="4.6" height="10.6" rx="2.3" fill="rgb(128,145,182)"/>
<rect x="-17.10" y="-39.4" width="3" height="9" rx="1.5" fill="rgb(236,210,140)"/>
<rect x="-12.70" y="-40.2" width="4.6" height="10.6" rx="2.3" fill="rgb(128,145,182)"/>
<rect x="-11.90" y="-39.4" width="3" height="9" rx="1.5" fill="rgb(236,210,140)"/>
<rect x="-7.50" y="-40.2" width="4.6" height="10.6" rx="2.3" fill="rgb(128,145,182)"/>
<rect x="-6.70" y="-39.4" width="3" height="9" rx="1.5" fill="rgb(236,210,140)"/>
<rect x="-2.30" y="-40.2" width="4.6" height="10.6" rx="2.3" fill="rgb(128,145,182)"/>
<rect x="-1.50" y="-39.4" width="3" height="9" rx="1.5" fill="rgb(236,210,140)"/>
<rect x="2.90" y="-40.2" width="4.6" height="10.6" rx="2.3" fill="rgb(128,145,182)"/>
<rect x="3.70" y="-39.4" width="3" height="9" rx="1.5" fill="rgb(236,210,140)"/>
<rect x="8.10" y="-40.2" width="4.6" height="10.6" rx="2.3" fill="rgb(128,145,182)"/>
<rect x="8.90" y="-39.4" width="3" height="9" rx="1.5" fill="rgb(236,210,140)"/>
<rect x="13.30" y="-40.2" width="4.6" height="10.6" rx="2.3" fill="rgb(128,145,182)"/>
<rect x="14.10" y="-39.4" width="3" height="9" rx="1.5" fill="rgb(236,210,140)"/>
<rect x="18.50" y="-40.2" width="4.6" height="10.6" rx="2.3" fill="rgb(128,145,182)"/>
<rect x="19.30" y="-39.4" width="3" height="9" rx="1.5" fill="rgb(236,210,140)"/>
<rect x="23.70" y="-40.2" width="4.6" height="10.6" rx="2.3" fill="rgb(128,145,182)"/>
<rect x="24.50" y="-39.4" width="3" height="9" rx="1.5" fill="rgb(236,210,140)"/>
</g>
<g transform="rotate(270)">
<rect x="-28.30" y="-40.2" width="4.6" height="10.6" rx="2.3" fill="rgb(128,145,182)"/>
<rect x="-27.50" y="-39.4" width="3" height="9" rx="1.5" fill="rgb(236,210,140)"/>
<rect x="-23.10" y="-40.2" width="4.6" height="10.6" rx="2.3" fill="rgb(128,145,182)"/>
<rect x="-22.30" y="-39.4" width="3" height="9" rx="1.5" fill="rgb(236,210,140)"/>
<rect x="-17.90" y="-40.2" width="4.6" height="10.6" rx="2.3" fill="rgb(128,145,182)"/>
<rect x="-17.10" y="-39.4" width="3" height="9" rx="1.5" fill="rgb(236,210,140)"/>
<rect x="-12.70" y="-40.2" width="4.6" height="10.6" rx="2.3" fill="rgb(128,145,182)"/>
<rect x="-11.90" y="-39.4" width="3" height="9" rx="1.5" fill="rgb(236,210,140)"/>
<rect x="-7.50" y="-40.2" width="4.6" height="10.6" rx="2.3" fill="rgb(128,145,182)"/>
<rect x="-6.70" y="-39.4" width="3" height="9" rx="1.5" fill="rgb(236,210,140)"/>
<rect x="-2.30" y="-40.2" width="4.6" height="10.6" rx="2.3" fill="rgb(128,145,182)"/>
<rect x="-1.50" y="-39.4" width="3" height="9" rx="1.5" fill="rgb(236,210,140)"/>
<rect x="2.90" y="-40.2" width="4.6" height="10.6" rx="2.3" fill="rgb(128,145,182)"/>
<rect x="3.70" y="-39.4" width="3" height="9" rx="1.5" fill="rgb(236,210,140)"/>
<rect x="8.10" y="-40.2" width="4.6" height="10.6" rx="2.3" fill="rgb(128,145,182)"/>
<rect x="8.90" y="-39.4" width="3" height="9" rx="1.5" fill="rgb(236,210,140)"/>
<rect x="13.30" y="-40.2" width="4.6" height="10.6" rx="2.3" fill="rgb(128,145,182)"/>
<rect x="14.10" y="-39.4" width="3" height="9" rx="1.5" fill="rgb(236,210,140)"/>
<rect x="18.50" y="-40.2" width="4.6" height="10.6" rx="2.3" fill="rgb(128,145,182)"/>
<rect x="19.30" y="-39.4" width="3" height="9" rx="1.5" fill="rgb(236,210,140)"/>
<rect x="23.70" y="-40.2" width="4.6" height="10.6" rx="2.3" fill="rgb(128,145,182)"/>
<rect x="24.50" y="-39.4" width="3" height="9" rx="1.5" fill="rgb(236,210,140)"/>
</g>
</g>
<circle cx="326.5" cy="369.0" r="1.2" fill="rgb(110,110,110)"/>
<rect transform="translate(387.8,291.6) rotate(45)" x="-15.2" y="-15.2" width="30.4" height="30.4" fill="none" stroke="#fff" stroke-width="1.6"/>
<g transform="translate(389.6,276.8) rotate(45)">
<rect x="-6.70" y="-6.70" width="13.40" height="13.40" rx="2.20" fill="rgb(128,145,182)"/>
<rect x="-5.50" y="-5.50" width="11.00" height="11.00" rx="1" fill="rgb(236,210,140)"/>
</g>
<g transform="translate(402.6,290.6) rotate(45)">
<rect x="-6.70" y="-6.70" width="13.40" height="13.40" rx="2.20" fill="rgb(128,145,182)"/>
<rect x="-5.50" y="-5.50" width="11.00" height="11.00" rx="1" fill="rgb(236,210,140)"/>
</g>
<g transform="translate(386.6,305.8) rotate(45)">
<rect x="-6.70" y="-6.70" width="13.40" height="13.40" rx="2.20" fill="rgb(128,145,182)"/>
<rect x="-5.50" y="-5.50" width="11.00" height="11.00" rx="1" fill="rgb(236,210,140)"/>
</g>
<g transform="translate(373.6,292.6) rotate(45)">
<rect x="-6.70" y="-6.70" width="13.40" height="13.40" rx="2.20" fill="rgb(128,145,182)"/>
<rect x="-5.50" y="-5.50" width="11.00" height="11.00" rx="1" fill="rgb(236,210,140)"/>
</g>
<rect transform="translate(387.8,291.6) rotate(45)" x="-15.2" y="-15.2" width="30.4" height="30.4" fill="none" stroke="#fff" stroke-width="1.6"/>
<rect transform="translate(369.75,276.0) rotate(-45.31308857502073)" x="-12.97" y="-7.00" width="25.94" height="14.00" rx="1.5" fill="none" stroke="#fff" stroke-width="1.6"/>
<g transform="translate(365.2,280.6) rotate(-45.31308857502073)">
<rect x="-5.20" y="-5.20" width="10.40" height="10.40" rx="2.20" fill="rgb(128,145,182)"/>
<rect x="-4.00" y="-4.00" width="8.00" height="8.00" rx="1" fill="rgb(236,210,140)"/>
</g>
<g transform="translate(374.3,271.4) rotate(-45.31308857502073)">
<rect x="-5.20" y="-5.20" width="10.40" height="10.40" rx="2.20" fill="rgb(128,145,182)"/>
<rect x="-4.00" y="-4.00" width="8.00" height="8.00" rx="1" fill="rgb(236,210,140)"/>
</g>
<rect transform="translate(404.55,311.5) rotate(-40.31410016049728)" x="-12.99" y="-7.00" width="25.98" height="14.00" rx="1.5" fill="none" stroke="#fff" stroke-width="1.6"/>
<g transform="translate(399.6,315.7) rotate(-40.31410016049728)">
<rect x="-5.20" y="-5.20" width="10.40" height="10.40" rx="2.20" fill="rgb(128,145,182)"/>
<rect x="-4.00" y="-4.00" width="8.00" height="8.00" rx="1" fill="rgb(236,210,140)"/>
</g>
<g transform="translate(409.5,307.3) rotate(-40.31410016049728)">
<rect x="-5.20" y="-5.20" width="10.40" height="10.40" rx="2.20" fill="rgb(128,145,182)"/>
<rect x="-4.00" y="-4.00" width="8.00" height="8.00" rx="1" fill="rgb(236,210,140)"/>
</g>
<rect transform="translate(383.8,333.5) rotate(-42.92996934695883)" x="-12.37" y="-7.00" width="24.75" height="14.00" rx="1.5" fill="none" stroke="#fff" stroke-width="1.6"/>
<g transform="translate(379.5,337.5) rotate(-42.92996934695883)">
<rect x="-5.20" y="-5.20" width="10.40" height="10.40" rx="2.20" fill="rgb(128,145,182)"/>
<rect x="-4.00" y="-4.00" width="8.00" height="8.00" rx="1" fill="rgb(236,210,140)"/>
</g>
<g transform="translate(388.1,329.5) rotate(-42.92996934695883)">
<rect x="-5.20" y="-5.20" width="10.40" height="10.40" rx="2.20" fill="rgb(128,145,182)"/>
<rect x="-4.00" y="-4.00" width="8.00" height="8.00" rx="1" fill="rgb(236,210,140)"/>
</g>
<rect transform="translate(267.95000000000005,345.85) rotate(44.20427644726055)" x="-10.09" y="-5.50" width="20.18" height="11.00" rx="1.5" fill="none" stroke="#fff" stroke-width="1.6"/>
<g transform="translate(264.3,342.3) rotate(44.20427644726055)">
<rect x="-4.80" y="-4.80" width="9.60" height="9.60" rx="2.20" fill="rgb(128,145,182)"/>
<rect x="-3.60" y="-3.60" width="7.20" height="7.20" rx="1" fill="rgb(236,210,140)"/>
</g>
<g transform="translate(271.6,349.4) rotate(44.20427644726055)">
<rect x="-4.80" y="-4.80" width="9.60" height="9.60" rx="2.20" fill="rgb(128,145,182)"/>
<rect x="-3.60" y="-3.60" width="7.20" height="7.20" rx="1" fill="rgb(236,210,140)"/>
</g>
<rect transform="translate(365.65,410.5) rotate(45.97102193107921)" x="-12.76" y="-7.00" width="25.52" height="14.00" rx="1.5" fill="none" stroke="#fff" stroke-width="1.6"/>
<g transform="translate(361.3,406.0) rotate(45.97102193107921)">
<rect x="-5.20" y="-5.20" width="10.40" height="10.40" rx="2.20" fill="rgb(128,145,182)"/>
<rect x="-4.00" y="-4.00" width="8.00" height="8.00" rx="1" fill="rgb(236,210,140)"/>
</g>
<g transform="translate(370.0,415.0) rotate(45.97102193107921)">
<rect x="-5.20" y="-5.20" width="10.40" height="10.40" rx="2.20" fill="rgb(128,145,182)"/>
<rect x="-4.00" y="-4.00" width="8.00" height="8.00" rx="1" fill="rgb(236,210,140)"/>
</g>
<rect transform="translate(295.2,435.25) rotate(132.70938995736134)" x="-11.14" y="-5.45" width="22.28" height="10.90" rx="1.5" fill="none" stroke="#fff" stroke-width="1.6"/>
<g transform="translate(299.4,430.7) rotate(132.70938995736134)">
<rect x="-4.95" y="-4.95" width="9.90" height="9.90" rx="2.20" fill="rgb(128,145,182)"/>
<rect x="-3.75" y="-3.75" width="7.50" height="7.50" rx="1" fill="rgb(236,210,140)"/>
</g>
<g transform="translate(291.0,439.8) rotate(132.70938995736134)">
<rect x="-4.95" y="-4.95" width="9.90" height="9.90" rx="2.20" fill="rgb(128,145,182)"/>
<rect x="-3.75" y="-3.75" width="7.50" height="7.50" rx="1" fill="rgb(236,210,140)"/>
</g>
<rect transform="translate(305.0,444.35) rotate(133.38190546726275)" x="-11.21" y="-5.45" width="22.42" height="10.90" rx="1.5" fill="none" stroke="#fff" stroke-width="1.6"/>
<g transform="translate(309.3,439.8) rotate(133.38190546726275)">
<rect x="-4.95" y="-4.95" width="9.90" height="9.90" rx="2.20" fill="rgb(128,145,182)"/>
<rect x="-3.75" y="-3.75" width="7.50" height="7.50" rx="1" fill="rgb(236,210,140)"/>
</g>
<g transform="translate(300.7,448.9) rotate(133.38190546726275)">
<rect x="-4.95" y="-4.95" width="9.90" height="9.90" rx="2.20" fill="rgb(128,145,182)"/>
<rect x="-3.75" y="-3.75" width="7.50" height="7.50" rx="1" fill="rgb(236,210,140)"/>
</g>
<rect transform="translate(326.7,458.0) rotate(45)" x="-9.75" y="-9.75" width="19.50" height="19.50" rx="1.5" fill="none" stroke="#fff" stroke-width="1.6"/>
<g transform="translate(326.7,458.0) rotate(45)">
<rect x="-8.70" y="-8.70" width="17.40" height="17.40" rx="2.20" fill="rgb(128,145,182)"/>
<rect x="-7.50" y="-7.50" width="15.00" height="15.00" rx="1" fill="rgb(236,210,140)"/>
</g>
<rect transform="translate(309.3,475.7) rotate(45)" x="-9.75" y="-9.75" width="19.50" height="19.50" rx="1.5" fill="none" stroke="#fff" stroke-width="1.6"/>
<g transform="translate(309.3,475.7) rotate(45)">
<rect x="-8.70" y="-8.70" width="17.40" height="17.40" rx="2.20" fill="rgb(128,145,182)"/>
<rect x="-7.50" y="-7.50" width="15.00" height="15.00" rx="1" fill="rgb(236,210,140)"/>
</g>
<circle cx="122.3" cy="54" r="1.7" fill="rgb(115,110,116)"/>
<circle cx="175" cy="58.2" r="1.7" fill="rgb(115,110,116)"/>
<circle cx="282" cy="50.3" r="1.7" fill="rgb(115,110,116)"/>
<circle cx="292.2" cy="62.8" r="1.7" fill="rgb(115,110,116)"/>
<circle cx="408.4" cy="42.2" r="1.7" fill="rgb(115,110,116)"/>
<circle cx="440.5" cy="71.8" r="1.7" fill="rgb(115,110,116)"/>
<circle cx="524.8" cy="66.3" r="1.7" fill="rgb(115,110,116)"/>
<circle cx="451.6" cy="63.5" r="1.7" fill="rgb(115,110,116)"/>
<circle cx="388" cy="548" r="1.7" fill="rgb(115,110,116)"/>
<circle cx="385.6" cy="500.4" r="1.7" fill="rgb(115,110,116)"/>
<circle cx="290.6" cy="291.2" r="1.7" fill="rgb(115,110,116)"/>
<rect x="51.00" y="90.80" width="20.00" height="20.00" rx="4.5" fill="rgb(128,145,182)"/>
<rect x="52.50" y="92.30" width="17.00" height="17.00" rx="3" fill="rgb(236,210,140)"/>
<circle cx="61" cy="100.80" r="5" fill="rgb(118,118,118)"/>
<line x1="61" y1="96.20" x2="61" y2="105.40" stroke="rgb(160,160,160)" stroke-width="0.8"/>
<rect x="78.00" y="90.80" width="20.00" height="20.00" rx="4.5" fill="rgb(128,145,182)"/>
<rect x="79.50" y="92.30" width="17.00" height="17.00" rx="3" fill="rgb(236,210,140)"/>
<circle cx="88" cy="100.80" r="5" fill="rgb(118,118,118)"/>
<line x1="88" y1="96.20" x2="88" y2="105.40" stroke="rgb(160,160,160)" stroke-width="0.8"/>
<rect x="51.00" y="117.85" width="20.00" height="20.00" rx="4.5" fill="rgb(128,145,182)"/>
<rect x="52.50" y="119.35" width="17.00" height="17.00" rx="3" fill="rgb(236,210,140)"/>
<circle cx="61" cy="127.85" r="5" fill="rgb(118,118,118)"/>
<line x1="61" y1="123.25" x2="61" y2="132.45" stroke="rgb(160,160,160)" stroke-width="0.8"/>
<rect x="78.00" y="117.85" width="20.00" height="20.00" rx="4.5" fill="rgb(128,145,182)"/>
<rect x="79.50" y="119.35" width="17.00" height="17.00" rx="3" fill="rgb(236,210,140)"/>
<circle cx="88" cy="127.85" r="5" fill="rgb(118,118,118)"/>
<line x1="88" y1="123.25" x2="88" y2="132.45" stroke="rgb(160,160,160)" stroke-width="0.8"/>
<rect x="51.00" y="144.90" width="20.00" height="20.00" rx="4.5" fill="rgb(128,145,182)"/>
<rect x="52.50" y="146.40" width="17.00" height="17.00" rx="3" fill="rgb(236,210,140)"/>
<circle cx="61" cy="154.90" r="5" fill="rgb(118,118,118)"/>
<line x1="61" y1="150.30" x2="61" y2="159.50" stroke="rgb(160,160,160)" stroke-width="0.8"/>
<rect x="78.00" y="144.90" width="20.00" height="20.00" rx="4.5" fill="rgb(128,145,182)"/>
<rect x="79.50" y="146.40" width="17.00" height="17.00" rx="3" fill="rgb(236,210,140)"/>
<circle cx="88" cy="154.90" r="5" fill="rgb(118,118,118)"/>
<line x1="88" y1="150.30" x2="88" y2="159.50" stroke="rgb(160,160,160)" stroke-width="0.8"/>
<rect x="51.00" y="171.95" width="20.00" height="20.00" rx="4.5" fill="rgb(128,145,182)"/>
<rect x="52.50" y="173.45" width="17.00" height="17.00" rx="3" fill="rgb(236,210,140)"/>
<circle cx="61" cy="181.95" r="5" fill="rgb(118,118,118)"/>
<line x1="61" y1="177.35" x2="61" y2="186.55" stroke="rgb(160,160,160)" stroke-width="0.8"/>
<rect x="78.00" y="171.95" width="20.00" height="20.00" rx="4.5" fill="rgb(128,145,182)"/>
<rect x="79.50" y="173.45" width="17.00" height="17.00" rx="3" fill="rgb(236,210,140)"/>
<circle cx="88" cy="181.95" r="5" fill="rgb(118,118,118)"/>
<line x1="88" y1="177.35" x2="88" y2="186.55" stroke="rgb(160,160,160)" stroke-width="0.8"/>
<rect x="51.00" y="199.00" width="20.00" height="20.00" rx="4.5" fill="rgb(128,145,182)"/>
<rect x="52.50" y="200.50" width="17.00" height="17.00" rx="3" fill="rgb(236,210,140)"/>
<circle cx="61" cy="209.00" r="5" fill="rgb(118,118,118)"/>
<line x1="61" y1="204.40" x2="61" y2="213.60" stroke="rgb(160,160,160)" stroke-width="0.8"/>
<rect x="78.00" y="199.00" width="20.00" height="20.00" rx="4.5" fill="rgb(128,145,182)"/>
<rect x="79.50" y="200.50" width="17.00" height="17.00" rx="3" fill="rgb(236,210,140)"/>
<circle cx="88" cy="209.00" r="5" fill="rgb(118,118,118)"/>
<line x1="88" y1="204.40" x2="88" y2="213.60" stroke="rgb(160,160,160)" stroke-width="0.8"/>
<rect x="51.00" y="226.05" width="20.00" height="20.00" rx="4.5" fill="rgb(128,145,182)"/>
<rect x="52.50" y="227.55" width="17.00" height="17.00" rx="3" fill="rgb(236,210,140)"/>
<circle cx="61" cy="236.05" r="5" fill="rgb(118,118,118)"/>
<line x1="61" y1="231.45" x2="61" y2="240.65" stroke="rgb(160,160,160)" stroke-width="0.8"/>
<rect x="78.00" y="226.05" width="20.00" height="20.00" rx="4.5" fill="rgb(128,145,182)"/>
<rect x="79.50" y="227.55" width="17.00" height="17.00" rx="3" fill="rgb(236,210,140)"/>
<circle cx="88" cy="236.05" r="5" fill="rgb(118,118,118)"/>
<line x1="88" y1="231.45" x2="88" y2="240.65" stroke="rgb(160,160,160)" stroke-width="0.8"/>
<rect x="51.00" y="253.10" width="20.00" height="20.00" rx="4.5" fill="rgb(128,145,182)"/>
<rect x="52.50" y="254.60" width="17.00" height="17.00" rx="3" fill="rgb(236,210,140)"/>
<circle cx="61" cy="263.10" r="5" fill="rgb(118,118,118)"/>
<line x1="61" y1="258.50" x2="61" y2="267.70" stroke="rgb(160,160,160)" stroke-width="0.8"/>
<rect x="78.00" y="253.10" width="20.00" height="20.00" rx="4.5" fill="rgb(128,145,182)"/>
<rect x="79.50" y="254.60" width="17.00" height="17.00" rx="3" fill="rgb(236,210,140)"/>
<circle cx="88" cy="263.10" r="5" fill="rgb(118,118,118)"/>
<line x1="88" y1="258.50" x2="88" y2="267.70" stroke="rgb(160,160,160)" stroke-width="0.8"/>
<rect x="51.00" y="280.15" width="20.00" height="20.00" rx="4.5" fill="rgb(128,145,182)"/>
<rect x="52.50" y="281.65" width="17.00" height="17.00" rx="3" fill="rgb(236,210,140)"/>
<circle cx="61" cy="290.15" r="5" fill="rgb(118,118,118)"/>
<line x1="61" y1="285.55" x2="61" y2="294.75" stroke="rgb(160,160,160)" stroke-width="0.8"/>
<rect x="78.00" y="280.15" width="20.00" height="20.00" rx="2.3" fill="rgb(128,145,182)"/>
<rect x="79.50" y="281.65" width="17.00" height="17.00" rx="0.8" fill="rgb(236,210,140)"/>
<circle cx="88" cy="290.15" r="5" fill="rgb(118,118,118)"/>
<line x1="88" y1="285.55" x2="88" y2="294.75" stroke="rgb(160,160,160)" stroke-width="0.8"/>
<rect x="47.8" y="87.8" width="54.0" height="215.39999999999998" fill="none" stroke="#fff" stroke-width="1.5"/>
<rect x="51.00" y="320.60" width="20.00" height="20.00" rx="4.5" fill="rgb(128,145,182)"/>
<rect x="52.50" y="322.10" width="17.00" height="17.00" rx="3" fill="rgb(236,210,140)"/>
<circle cx="61" cy="330.60" r="5" fill="rgb(118,118,118)"/>
<line x1="61" y1="326.00" x2="61" y2="335.20" stroke="rgb(160,160,160)" stroke-width="0.8"/>
<rect x="78.00" y="320.60" width="20.00" height="20.00" rx="4.5" fill="rgb(128,145,182)"/>
<rect x="79.50" y="322.10" width="17.00" height="17.00" rx="3" fill="rgb(236,210,140)"/>
<circle cx="88" cy="330.60" r="5" fill="rgb(118,118,118)"/>
<line x1="88" y1="326.00" x2="88" y2="335.20" stroke="rgb(160,160,160)" stroke-width="0.8"/>
<rect x="51.00" y="347.58" width="20.00" height="20.00" rx="4.5" fill="rgb(128,145,182)"/>
<rect x="52.50" y="349.08" width="17.00" height="17.00" rx="3" fill="rgb(236,210,140)"/>
<circle cx="61" cy="357.58" r="5" fill="rgb(118,118,118)"/>
<line x1="61" y1="352.98" x2="61" y2="362.18" stroke="rgb(160,160,160)" stroke-width="0.8"/>
<rect x="78.00" y="347.58" width="20.00" height="20.00" rx="4.5" fill="rgb(128,145,182)"/>
<rect x="79.50" y="349.08" width="17.00" height="17.00" rx="3" fill="rgb(236,210,140)"/>
<circle cx="88" cy="357.58" r="5" fill="rgb(118,118,118)"/>
<line x1="88" y1="352.98" x2="88" y2="362.18" stroke="rgb(160,160,160)" stroke-width="0.8"/>
<rect x="51.00" y="374.56" width="20.00" height="20.00" rx="4.5" fill="rgb(128,145,182)"/>
<rect x="52.50" y="376.06" width="17.00" height="17.00" rx="3" fill="rgb(236,210,140)"/>
<circle cx="61" cy="384.56" r="5" fill="rgb(118,118,118)"/>
<line x1="61" y1="379.96" x2="61" y2="389.16" stroke="rgb(160,160,160)" stroke-width="0.8"/>
<rect x="78.00" y="374.56" width="20.00" height="20.00" rx="4.5" fill="rgb(128,145,182)"/>
<rect x="79.50" y="376.06" width="17.00" height="17.00" rx="3" fill="rgb(236,210,140)"/>
<circle cx="88" cy="384.56" r="5" fill="rgb(118,118,118)"/>
<line x1="88" y1="379.96" x2="88" y2="389.16" stroke="rgb(160,160,160)" stroke-width="0.8"/>
<rect x="51.00" y="401.54" width="20.00" height="20.00" rx="4.5" fill="rgb(128,145,182)"/>
<rect x="52.50" y="403.04" width="17.00" height="17.00" rx="3" fill="rgb(236,210,140)"/>
<circle cx="61" cy="411.54" r="5" fill="rgb(118,118,118)"/>
<line x1="61" y1="406.94" x2="61" y2="416.14" stroke="rgb(160,160,160)" stroke-width="0.8"/>
<rect x="78.00" y="401.54" width="20.00" height="20.00" rx="4.5" fill="rgb(128,145,182)"/>
<rect x="79.50" y="403.04" width="17.00" height="17.00" rx="3" fill="rgb(236,210,140)"/>
<circle cx="88" cy="411.54" r="5" fill="rgb(118,118,118)"/>
<line x1="88" y1="406.94" x2="88" y2="416.14" stroke="rgb(160,160,160)" stroke-width="0.8"/>
<rect x="51.00" y="428.52" width="20.00" height="20.00" rx="4.5" fill="rgb(128,145,182)"/>
<rect x="52.50" y="430.02" width="17.00" height="17.00" rx="3" fill="rgb(236,210,140)"/>
<circle cx="61" cy="438.52" r="5" fill="rgb(118,118,118)"/>
<line x1="61" y1="433.92" x2="61" y2="443.12" stroke="rgb(160,160,160)" stroke-width="0.8"/>
<rect x="78.00" y="428.52" width="20.00" height="20.00" rx="4.5" fill="rgb(128,145,182)"/>
<rect x="79.50" y="430.02" width="17.00" height="17.00" rx="3" fill="rgb(236,210,140)"/>
<circle cx="88" cy="438.52" r="5" fill="rgb(118,118,118)"/>
<line x1="88" y1="433.92" x2="88" y2="443.12" stroke="rgb(160,160,160)" stroke-width="0.8"/>
<rect x="51.00" y="455.50" width="20.00" height="20.00" rx="4.5" fill="rgb(128,145,182)"/>
<rect x="52.50" y="457.00" width="17.00" height="17.00" rx="3" fill="rgb(236,210,140)"/>
<circle cx="61" cy="465.50" r="5" fill="rgb(118,118,118)"/>
<line x1="61" y1="460.90" x2="61" y2="470.10" stroke="rgb(160,160,160)" stroke-width="0.8"/>
<rect x="78.00" y="455.50" width="20.00" height="20.00" rx="4.5" fill="rgb(128,145,182)"/>
<rect x="79.50" y="457.00" width="17.00" height="17.00" rx="3" fill="rgb(236,210,140)"/>
<circle cx="88" cy="465.50" r="5" fill="rgb(118,118,118)"/>
<line x1="88" y1="460.90" x2="88" y2="470.10" stroke="rgb(160,160,160)" stroke-width="0.8"/>
<rect x="51.00" y="482.48" width="20.00" height="20.00" rx="4.5" fill="rgb(128,145,182)"/>
<rect x="52.50" y="483.98" width="17.00" height="17.00" rx="3" fill="rgb(236,210,140)"/>
<circle cx="61" cy="492.48" r="5" fill="rgb(118,118,118)"/>
<line x1="61" y1="487.88" x2="61" y2="497.08" stroke="rgb(160,160,160)" stroke-width="0.8"/>
<rect x="78.00" y="482.48" width="20.00" height="20.00" rx="4.5" fill="rgb(128,145,182)"/>
<rect x="79.50" y="483.98" width="17.00" height="17.00" rx="3" fill="rgb(236,210,140)"/>
<circle cx="88" cy="492.48" r="5" fill="rgb(118,118,118)"/>
<line x1="88" y1="487.88" x2="88" y2="497.08" stroke="rgb(160,160,160)" stroke-width="0.8"/>
<rect x="51.00" y="509.46" width="20.00" height="20.00" rx="4.5" fill="rgb(128,145,182)"/>
<rect x="52.50" y="510.96" width="17.00" height="17.00" rx="3" fill="rgb(236,210,140)"/>
<circle cx="61" cy="519.46" r="5" fill="rgb(118,118,118)"/>
<line x1="61" y1="514.86" x2="61" y2="524.06" stroke="rgb(160,160,160)" stroke-width="0.8"/>
<rect x="78.00" y="509.46" width="20.00" height="20.00" rx="4.5" fill="rgb(128,145,182)"/>
<rect x="79.50" y="510.96" width="17.00" height="17.00" rx="3" fill="rgb(236,210,140)"/>
<circle cx="88" cy="519.46" r="5" fill="rgb(118,118,118)"/>
<line x1="88" y1="514.86" x2="88" y2="524.06" stroke="rgb(160,160,160)" stroke-width="0.8"/>
<rect x="51.00" y="536.44" width="20.00" height="20.00" rx="4.5" fill="rgb(128,145,182)"/>
<rect x="52.50" y="537.94" width="17.00" height="17.00" rx="3" fill="rgb(236,210,140)"/>
<circle cx="61" cy="546.44" r="5" fill="rgb(118,118,118)"/>
<line x1="61" y1="541.84" x2="61" y2="551.04" stroke="rgb(160,160,160)" stroke-width="0.8"/>
<rect x="78.00" y="536.44" width="20.00" height="20.00" rx="4.5" fill="rgb(128,145,182)"/>
<rect x="79.50" y="537.94" width="17.00" height="17.00" rx="3" fill="rgb(236,210,140)"/>
<circle cx="88" cy="546.44" r="5" fill="rgb(118,118,118)"/>
<line x1="88" y1="541.84" x2="88" y2="551.04" stroke="rgb(160,160,160)" stroke-width="0.8"/>
<rect x="51.00" y="563.42" width="20.00" height="20.00" rx="4.5" fill="rgb(128,145,182)"/>
<rect x="52.50" y="564.92" width="17.00" height="17.00" rx="3" fill="rgb(236,210,140)"/>
<circle cx="61" cy="573.42" r="5" fill="rgb(118,118,118)"/>
<line x1="61" y1="568.82" x2="61" y2="578.02" stroke="rgb(160,160,160)" stroke-width="0.8"/>
<rect x="78.00" y="563.42" width="20.00" height="20.00" rx="2.3" fill="rgb(128,145,182)"/>
<rect x="79.50" y="564.92" width="17.00" height="17.00" rx="0.8" fill="rgb(236,210,140)"/>
<circle cx="88" cy="573.42" r="5" fill="rgb(118,118,118)"/>
<line x1="88" y1="568.82" x2="88" y2="578.02" stroke="rgb(160,160,160)" stroke-width="0.8"/>
<rect x="47.8" y="317.3" width="54.0" height="269.7" fill="none" stroke="#fff" stroke-width="1.5"/>
<rect x="537.20" y="90.50" width="20.00" height="20.00" rx="4.5" fill="rgb(128,145,182)"/>
<rect x="538.70" y="92.00" width="17.00" height="17.00" rx="3" fill="rgb(236,210,140)"/>
<circle cx="547.2" cy="100.50" r="5" fill="rgb(118,118,118)"/>
<line x1="547.2" y1="95.90" x2="547.2" y2="105.10" stroke="rgb(160,160,160)" stroke-width="0.8"/>
<rect x="563.90" y="90.50" width="20.00" height="20.00" rx="4.5" fill="rgb(128,145,182)"/>
<rect x="565.40" y="92.00" width="17.00" height="17.00" rx="3" fill="rgb(236,210,140)"/>
<circle cx="573.9" cy="100.50" r="5" fill="rgb(118,118,118)"/>
<line x1="573.9" y1="95.90" x2="573.9" y2="105.10" stroke="rgb(160,160,160)" stroke-width="0.8"/>
<rect x="537.20" y="117.58" width="20.00" height="20.00" rx="4.5" fill="rgb(128,145,182)"/>
<rect x="538.70" y="119.08" width="17.00" height="17.00" rx="3" fill="rgb(236,210,140)"/>
<circle cx="547.2" cy="127.58" r="5" fill="rgb(118,118,118)"/>
<line x1="547.2" y1="122.98" x2="547.2" y2="132.18" stroke="rgb(160,160,160)" stroke-width="0.8"/>
<rect x="563.90" y="117.58" width="20.00" height="20.00" rx="4.5" fill="rgb(128,145,182)"/>
<rect x="565.40" y="119.08" width="17.00" height="17.00" rx="3" fill="rgb(236,210,140)"/>
<circle cx="573.9" cy="127.58" r="5" fill="rgb(118,118,118)"/>
<line x1="573.9" y1="122.98" x2="573.9" y2="132.18" stroke="rgb(160,160,160)" stroke-width="0.8"/>
<rect x="537.20" y="144.66" width="20.00" height="20.00" rx="4.5" fill="rgb(128,145,182)"/>
<rect x="538.70" y="146.16" width="17.00" height="17.00" rx="3" fill="rgb(236,210,140)"/>
<circle cx="547.2" cy="154.66" r="5" fill="rgb(118,118,118)"/>
<line x1="547.2" y1="150.06" x2="547.2" y2="159.26" stroke="rgb(160,160,160)" stroke-width="0.8"/>
<rect x="563.90" y="144.66" width="20.00" height="20.00" rx="4.5" fill="rgb(128,145,182)"/>
<rect x="565.40" y="146.16" width="17.00" height="17.00" rx="3" fill="rgb(236,210,140)"/>
<circle cx="573.9" cy="154.66" r="5" fill="rgb(118,118,118)"/>
<line x1="573.9" y1="150.06" x2="573.9" y2="159.26" stroke="rgb(160,160,160)" stroke-width="0.8"/>
<rect x="537.20" y="171.74" width="20.00" height="20.00" rx="4.5" fill="rgb(128,145,182)"/>
<rect x="538.70" y="173.24" width="17.00" height="17.00" rx="3" fill="rgb(236,210,140)"/>
<circle cx="547.2" cy="181.74" r="5" fill="rgb(118,118,118)"/>
<line x1="547.2" y1="177.14" x2="547.2" y2="186.34" stroke="rgb(160,160,160)" stroke-width="0.8"/>
<rect x="563.90" y="171.74" width="20.00" height="20.00" rx="4.5" fill="rgb(128,145,182)"/>
<rect x="565.40" y="173.24" width="17.00" height="17.00" rx="3" fill="rgb(236,210,140)"/>
<circle cx="573.9" cy="181.74" r="5" fill="rgb(118,118,118)"/>
<line x1="573.9" y1="177.14" x2="573.9" y2="186.34" stroke="rgb(160,160,160)" stroke-width="0.8"/>
<rect x="537.20" y="198.82" width="20.00" height="20.00" rx="4.5" fill="rgb(128,145,182)"/>
<rect x="538.70" y="200.32" width="17.00" height="17.00" rx="3" fill="rgb(236,210,140)"/>
<circle cx="547.2" cy="208.82" r="5" fill="rgb(118,118,118)"/>
<line x1="547.2" y1="204.22" x2="547.2" y2="213.42" stroke="rgb(160,160,160)" stroke-width="0.8"/>
<rect x="563.90" y="198.82" width="20.00" height="20.00" rx="4.5" fill="rgb(128,145,182)"/>
<rect x="565.40" y="200.32" width="17.00" height="17.00" rx="3" fill="rgb(236,210,140)"/>
<circle cx="573.9" cy="208.82" r="5" fill="rgb(118,118,118)"/>
<line x1="573.9" y1="204.22" x2="573.9" y2="213.42" stroke="rgb(160,160,160)" stroke-width="0.8"/>
<rect x="537.20" y="225.90" width="20.00" height="20.00" rx="4.5" fill="rgb(128,145,182)"/>
<rect x="538.70" y="227.40" width="17.00" height="17.00" rx="3" fill="rgb(236,210,140)"/>
<circle cx="547.2" cy="235.90" r="5" fill="rgb(118,118,118)"/>
<line x1="547.2" y1="231.30" x2="547.2" y2="240.50" stroke="rgb(160,160,160)" stroke-width="0.8"/>
<rect x="563.90" y="225.90" width="20.00" height="20.00" rx="2.3" fill="rgb(128,145,182)"/>
<rect x="565.40" y="227.40" width="17.00" height="17.00" rx="0.8" fill="rgb(236,210,140)"/>
<circle cx="573.9" cy="235.90" r="5" fill="rgb(118,118,118)"/>
<line x1="573.9" y1="231.30" x2="573.9" y2="240.50" stroke="rgb(160,160,160)" stroke-width="0.8"/>
<rect x="533.7" y="87.6" width="53.89999999999998" height="162.4" fill="none" stroke="#fff" stroke-width="1.5"/>
<rect x="537.00" y="279.30" width="20.00" height="20.00" rx="4.5" fill="rgb(128,145,182)"/>
<rect x="538.50" y="280.80" width="17.00" height="17.00" rx="3" fill="rgb(236,210,140)"/>
<circle cx="547.0" cy="289.30" r="5" fill="rgb(118,118,118)"/>
<line x1="547.0" y1="284.70" x2="547.0" y2="293.90" stroke="rgb(160,160,160)" stroke-width="0.8"/>
<rect x="563.60" y="279.30" width="20.00" height="20.00" rx="4.5" fill="rgb(128,145,182)"/>
<rect x="565.10" y="280.80" width="17.00" height="17.00" rx="3" fill="rgb(236,210,140)"/>
<circle cx="573.6" cy="289.30" r="5" fill="rgb(118,118,118)"/>
<line x1="573.6" y1="284.70" x2="573.6" y2="293.90" stroke="rgb(160,160,160)" stroke-width="0.8"/>
<rect x="537.00" y="306.30" width="20.00" height="20.00" rx="4.5" fill="rgb(128,145,182)"/>
<rect x="538.50" y="307.80" width="17.00" height="17.00" rx="3" fill="rgb(236,210,140)"/>
<circle cx="547.0" cy="316.30" r="5" fill="rgb(118,118,118)"/>
<line x1="547.0" y1="311.70" x2="547.0" y2="320.90" stroke="rgb(160,160,160)" stroke-width="0.8"/>
<rect x="563.60" y="306.30" width="20.00" height="20.00" rx="4.5" fill="rgb(128,145,182)"/>
<rect x="565.10" y="307.80" width="17.00" height="17.00" rx="3" fill="rgb(236,210,140)"/>
<circle cx="573.6" cy="316.30" r="5" fill="rgb(118,118,118)"/>
<line x1="573.6" y1="311.70" x2="573.6" y2="320.90" stroke="rgb(160,160,160)" stroke-width="0.8"/>
<rect x="537.00" y="333.30" width="20.00" height="20.00" rx="4.5" fill="rgb(128,145,182)"/>
<rect x="538.50" y="334.80" width="17.00" height="17.00" rx="3" fill="rgb(236,210,140)"/>
<circle cx="547.0" cy="343.30" r="5" fill="rgb(118,118,118)"/>
<line x1="547.0" y1="338.70" x2="547.0" y2="347.90" stroke="rgb(160,160,160)" stroke-width="0.8"/>
<rect x="563.60" y="333.30" width="20.00" height="20.00" rx="4.5" fill="rgb(128,145,182)"/>
<rect x="565.10" y="334.80" width="17.00" height="17.00" rx="3" fill="rgb(236,210,140)"/>
<circle cx="573.6" cy="343.30" r="5" fill="rgb(118,118,118)"/>
<line x1="573.6" y1="338.70" x2="573.6" y2="347.90" stroke="rgb(160,160,160)" stroke-width="0.8"/>
<rect x="537.00" y="360.30" width="20.00" height="20.00" rx="4.5" fill="rgb(128,145,182)"/>
<rect x="538.50" y="361.80" width="17.00" height="17.00" rx="3" fill="rgb(236,210,140)"/>
<circle cx="547.0" cy="370.30" r="5" fill="rgb(118,118,118)"/>
<line x1="547.0" y1="365.70" x2="547.0" y2="374.90" stroke="rgb(160,160,160)" stroke-width="0.8"/>
<rect x="563.60" y="360.30" width="20.00" height="20.00" rx="4.5" fill="rgb(128,145,182)"/>
<rect x="565.10" y="361.80" width="17.00" height="17.00" rx="3" fill="rgb(236,210,140)"/>
<circle cx="573.6" cy="370.30" r="5" fill="rgb(118,118,118)"/>
<line x1="573.6" y1="365.70" x2="573.6" y2="374.90" stroke="rgb(160,160,160)" stroke-width="0.8"/>
<rect x="537.00" y="387.30" width="20.00" height="20.00" rx="4.5" fill="rgb(128,145,182)"/>
<rect x="538.50" y="388.80" width="17.00" height="17.00" rx="3" fill="rgb(236,210,140)"/>
<circle cx="547.0" cy="397.30" r="5" fill="rgb(118,118,118)"/>
<line x1="547.0" y1="392.70" x2="547.0" y2="401.90" stroke="rgb(160,160,160)" stroke-width="0.8"/>
<rect x="563.60" y="387.30" width="20.00" height="20.00" rx="4.5" fill="rgb(128,145,182)"/>
<rect x="565.10" y="388.80" width="17.00" height="17.00" rx="3" fill="rgb(236,210,140)"/>
<circle cx="573.6" cy="397.30" r="5" fill="rgb(118,118,118)"/>
<line x1="573.6" y1="392.70" x2="573.6" y2="401.90" stroke="rgb(160,160,160)" stroke-width="0.8"/>
<rect x="537.00" y="414.30" width="20.00" height="20.00" rx="4.5" fill="rgb(128,145,182)"/>
<rect x="538.50" y="415.80" width="17.00" height="17.00" rx="3" fill="rgb(236,210,140)"/>
<circle cx="547.0" cy="424.30" r="5" fill="rgb(118,118,118)"/>
<line x1="547.0" y1="419.70" x2="547.0" y2="428.90" stroke="rgb(160,160,160)" stroke-width="0.8"/>
<rect x="563.60" y="414.30" width="20.00" height="20.00" rx="4.5" fill="rgb(128,145,182)"/>
<rect x="565.10" y="415.80" width="17.00" height="17.00" rx="3" fill="rgb(236,210,140)"/>
<circle cx="573.6" cy="424.30" r="5" fill="rgb(118,118,118)"/>
<line x1="573.6" y1="419.70" x2="573.6" y2="428.90" stroke="rgb(160,160,160)" stroke-width="0.8"/>
<rect x="537.00" y="441.30" width="20.00" height="20.00" rx="4.5" fill="rgb(128,145,182)"/>
<rect x="538.50" y="442.80" width="17.00" height="17.00" rx="3" fill="rgb(236,210,140)"/>
<circle cx="547.0" cy="451.30" r="5" fill="rgb(118,118,118)"/>
<line x1="547.0" y1="446.70" x2="547.0" y2="455.90" stroke="rgb(160,160,160)" stroke-width="0.8"/>
<rect x="563.60" y="441.30" width="20.00" height="20.00" rx="4.5" fill="rgb(128,145,182)"/>
<rect x="565.10" y="442.80" width="17.00" height="17.00" rx="3" fill="rgb(236,210,140)"/>
<circle cx="573.6" cy="451.30" r="5" fill="rgb(118,118,118)"/>
<line x1="573.6" y1="446.70" x2="573.6" y2="455.90" stroke="rgb(160,160,160)" stroke-width="0.8"/>
<rect x="537.00" y="468.30" width="20.00" height="20.00" rx="4.5" fill="rgb(128,145,182)"/>
<rect x="538.50" y="469.80" width="17.00" height="17.00" rx="3" fill="rgb(236,210,140)"/>
<circle cx="547.0" cy="478.30" r="5" fill="rgb(118,118,118)"/>
<line x1="547.0" y1="473.70" x2="547.0" y2="482.90" stroke="rgb(160,160,160)" stroke-width="0.8"/>
<rect x="563.60" y="468.30" width="20.00" height="20.00" rx="2.3" fill="rgb(128,145,182)"/>
<rect x="565.10" y="469.80" width="17.00" height="17.00" rx="0.8" fill="rgb(236,210,140)"/>
<circle cx="573.6" cy="478.30" r="5" fill="rgb(118,118,118)"/>
<line x1="573.6" y1="473.70" x2="573.6" y2="482.90" stroke="rgb(160,160,160)" stroke-width="0.8"/>
<rect x="533.5" y="276.4" width="54.5" height="216.40000000000003" fill="none" stroke="#fff" stroke-width="1.5"/>
<rect x="359.5" y="137.5" width="28.5" height="109.30000000000001" fill="none" stroke="#fff" stroke-width="1.5"/>
<rect x="361.60" y="139.30" width="24.60" height="24.60" rx="1.8" fill="rgb(128,145,182)"/>
<rect x="362.60" y="140.30" width="22.60" height="22.60" rx="0.8" fill="rgb(236,210,140)"/>
<circle cx="373.9" cy="151.60" r="5.3" fill="rgb(118,118,118)"/>
<circle cx="373.9" cy="178.2" r="12.50" fill="rgb(128,145,182)"/>
<circle cx="373.9" cy="178.2" r="11.10" fill="rgb(236,210,140)"/>
<circle cx="373.9" cy="178.20" r="5.3" fill="rgb(118,118,118)"/>
<circle cx="373.9" cy="205.2" r="12.50" fill="rgb(128,145,182)"/>
<circle cx="373.9" cy="205.2" r="11.10" fill="rgb(236,210,140)"/>
<circle cx="373.9" cy="205.20" r="5.3" fill="rgb(118,118,118)"/>
<circle cx="373.9" cy="232.4" r="12.50" fill="rgb(128,145,182)"/>
<circle cx="373.9" cy="232.4" r="11.10" fill="rgb(236,210,140)"/>
<circle cx="373.9" cy="232.40" r="5.3" fill="rgb(118,118,118)"/>
<rect x="201.9" y="513.4" width="29.0" height="55.10000000000002" fill="none" stroke="#fff" stroke-width="1.5"/>
<circle cx="216.4" cy="527.4" r="12.55" fill="rgb(128,145,182)"/>
<circle cx="216.4" cy="527.4" r="11.15" fill="rgb(236,210,140)"/>
<circle cx="216.4" cy="527.40" r="6.4" fill="rgb(118,118,118)"/>
<line x1="210.40" y1="527.40" x2="222.40" y2="527.40" stroke="rgb(170,170,170)" stroke-width="0.9"/>
<rect x="204.20" y="542.50" width="24.40" height="24.40" rx="1.8" fill="rgb(128,145,182)"/>
<rect x="205.20" y="543.50" width="22.40" height="22.40" rx="0.8" fill="rgb(236,210,140)"/>
<circle cx="216.4" cy="554.70" r="6.4" fill="rgb(118,118,118)"/>
<line x1="210.40" y1="554.70" x2="222.40" y2="554.70" stroke="rgb(170,170,170)" stroke-width="0.9"/>
<circle cx="492.0" cy="413.8" r="12.60" fill="rgb(128,145,182)"/>
<circle cx="492.0" cy="413.8" r="11.20" fill="rgb(236,210,140)"/>
<circle cx="492.0" cy="413.80" r="5.0" fill="rgb(118,118,118)"/>
<line x1="492.0" y1="409.20" x2="492.0" y2="418.40" stroke="rgb(160,160,160)" stroke-width="0.8"/>
<circle cx="492.0" cy="440.8" r="12.60" fill="rgb(128,145,182)"/>
<circle cx="492.0" cy="440.8" r="11.20" fill="rgb(236,210,140)"/>
<circle cx="492.0" cy="440.80" r="5.0" fill="rgb(118,118,118)"/>
<line x1="492.0" y1="436.20" x2="492.0" y2="445.40" stroke="rgb(160,160,160)" stroke-width="0.8"/>
<circle cx="492.0" cy="467.7" r="12.60" fill="rgb(128,145,182)"/>
<circle cx="492.0" cy="467.7" r="11.20" fill="rgb(236,210,140)"/>
<circle cx="492.0" cy="467.70" r="5.0" fill="rgb(118,118,118)"/>
<line x1="492.0" y1="463.10" x2="492.0" y2="472.30" stroke="rgb(160,160,160)" stroke-width="0.8"/>
<rect x="479.10" y="482.10" width="25.00" height="25.00" rx="1.8" fill="rgb(128,145,182)"/>
<rect x="480.10" y="483.10" width="23.00" height="23.00" rx="0.8" fill="rgb(236,210,140)"/>
<circle cx="491.6" cy="494.60" r="5.0" fill="rgb(118,118,118)"/>
<line x1="491.6" y1="490.00" x2="491.6" y2="499.20" stroke="rgb(160,160,160)" stroke-width="0.8"/>
<g fill="#fff">
<path d="M110.6,117 L110.6,81.8 L131.2,81.8 L131.2,117 L138.7,117 L138.7,93 L151,93 L151,117 L158.5,117 L158.5,75.6 L178.8,75.6 L178.8,137.5 L110.6,137.5 Z"/>
<path d="M111,141.7 L178.8,141.7 L178.8,162.79999999999998 L153.8,183.0 L178.8,183.0 L178.8,203.29999999999998 L111,203.29999999999998 L111,182.0 L135,162.79999999999998 L111,162.79999999999998 Z"/>
<path d="M111,283.0 L178.8,283.0 L178.8,304.1 L153.8,324.3 L178.8,324.3 L178.8,344.6 L111,344.6 L111,323.3 L135,304.1 L111,304.1 Z"/>
<path fill-rule="evenodd" d="M145.2,207 C166,207 178.8,220 178.8,244.5 C178.8,269 166,282 145.2,282 C124.5,282 111.7,269 111.7,244.5 C111.7,220 124.5,207 145.2,207 Z M146,231 C156,231 162.4,235 162.4,244.7 C162.4,254.5 156,258.5 146,258.5 C136,258.5 129.6,254.5 129.6,244.7 C129.6,235 136,231 146,231 Z"/>
<rect x="111" y="348.6" width="67.8" height="21.1"/>
<path fill-rule="evenodd" d="M111,452.6 L111,393 C111,381 120,373.7 133.6,373.7 C147,373.7 156.2,381 156.2,393 L156.2,415.2 L178.9,415.2 L178.9,438.7 L131,438.7 L131,452.6 Z M128.7,415.2 L128.7,400 C128.7,396.5 131,394.3 134.6,394.3 C138.3,394.3 140.6,396.5 140.6,400 L140.6,415.2 Z"/>
<path fill-rule="evenodd" d="M158.4,485 L178.9,485 L178.9,570 L159.3,585.6 L178.9,585.6 L178.9,607.2 L110.6,607.2 L110.6,521 L158.4,521 Z M131.2,542.6 L158.4,542.6 L158.4,563 L144.7,572.5 L131.2,561 Z"/>
<path d="M513.8,571.4 H577.2 V581.3 L536,607 H577.2 V641 H564 V615 H527.2 V641 H513.8 V606.6 L554.3,579.8 H513.8 Z"/>
<rect x="538" y="626.5" width="14" height="20"/>
<text transform="translate(577.2,560) rotate(180)" x="0" y="0" font-size="13.5" font-weight="bold" stroke="#fff" stroke-width="0.6" letter-spacing="1.2" textLength="63.4" lengthAdjust="spacingAndGlyphs" dominant-baseline="auto" font-family="Liberation Sans, sans-serif" style="" >FACTORY</text>
<path d="M309.9,147.1 C318.5,165 318.5,232 309.9,250 C301.5,232 301,165 309.9,147.1 Z" fill="#fff"/>
<g fill="none" stroke="#fff" stroke-width="1.8" stroke-linejoin="round" stroke-linecap="round">
<path d="M239,175.5 C224,173 211,184 211,199.5 C211,215 223,227.5 238,226.5"/>
<path d="M258.8,173.5 C262.5,186 263.5,212 262.5,226.5"/>
<ellipse cx="244.5" cy="170.3" rx="6.8" ry="3.1"/><ellipse cx="244.5" cy="229.5" rx="6.8" ry="3.1"/>
<path d="M251,168 C257,160 263,157 270,156 M251,231.5 C257,239 263,242 270,243"/>
<path d="M228,181 L254,183.5 C255.5,195 255.5,205 250.5,215.5 L228,219.5 C231.5,212 231.5,206 227.5,199.5 C231.5,193 231.5,187 228,181 Z"/>
<path d="M237.5,184 C236,187 236.5,190 238.5,191.5 M237.5,215 C236,212 236.5,209 238.5,207.5" stroke-width="1.4"/>
<path d="M262,165 C266,158 276,154 286,155 C294,155 300,157 304,161 M262,234 C266,241 276,245 286,244 C294,244 300,242 304,238"/>
<path d="M270,157.5 C268,165 270,177 275,181.5 L284,181.5 C289,176 290,164 286,155.5 M270,242 C268,234 270,222 275,217.5 L284,217.5 C289,223 290,235 286,243.5"/>
<path d="M285,186 C294,181 304,181 309,184 M285,213 L311.5,215.8 M284,190 L290,184"/>
<path d="M269.5,176 V224 M268.7,181.5 H283.3 V190 H268.7 M268.7,207 H283.3 V217.5 H268.7 M273.9,191.7 V205.5 M277.3,191.7 V205.5 M280.7,191.7 V205.5"/>
<path d="M266,178 L270,181 L266,184 M266,221 L270,218 L266,215" stroke-width="1.4"/>
</g>
<circle cx="241" cy="190" r="1.1" fill="#fff"/><circle cx="241" cy="209.6" r="1.1" fill="#fff"/>
<path d="M254.5,187 C260.5,189 261.5,203 254.5,207 Z" fill="#fff"/>
<path d="M40.2,176.3 C46,176.5 46,184.5 40.2,184.6 M40,195.5 H44.9 M44.2,432.7 V440.8 L40.4,435.9 M40,451.8 H44.6" fill="none" stroke="#fff" stroke-width="1.3"/>
<path d="M530.7,367 H518.3 V384.3 H530.7 M524.5,384.3 V378" fill="none" stroke="#fff" stroke-width="1.3"/>
<rect x="95" y="638.2" width="56.2" height="6" rx="1.5"/>
</g>
<g font-family="Liberation Sans, sans-serif">
<text x="392.6" y="157.3" fill="#fff" font-size="18" text-anchor="start" >VCC</text>
<text x="392.6" y="185.5" fill="#fff" font-size="18" text-anchor="start" >Gnd</text>
<text x="392.6" y="212.5" fill="#fff" font-size="18" text-anchor="start" >SCL</text>
<text x="392.6" y="240" fill="#fff" font-size="18" text-anchor="start" >SDA</text>
<text transform="translate(353.2,254.4) rotate(-90)" fill="#fff" font-size="17" textLength="120" lengthAdjust="spacingAndGlyphs">Accelerometer</text>
<text transform="translate(530.4,169.2) rotate(-90)" fill="#fff" font-size="16">P5</text>
<text transform="translate(196,570) rotate(-90)" fill="#fff" font-size="16">Gnd Reset</text>
<text transform="translate(24.87,105) scale(0.955,1)" x="0" y="0" fill="#f00" font-size="24.2">2</text>
<path transform="translate(24.87,133.7) scale(0.01128,-0.01182)" d="M763,0 L583,0 L583,1147 C540,1106 483,1065 413,1024 C342,983 279,952 223,931 L223,1105 C324,1152 412,1210 487,1277 C562,1344 615,1408 646,1466 L763,1466 Z" fill="#f00"/>
<text transform="translate(24.87,163) scale(0.955,1)" x="0" y="0" fill="#f00" font-size="24.2">5</text>
<text transform="translate(24.87,192.5) scale(0.955,1)" x="0" y="0" fill="#f00" font-size="24.2">4</text>
<text transform="translate(24.87,220.7) scale(0.955,1)" x="0" y="0" fill="#f00" font-size="24.2">3</text>
<text transform="translate(24.87,332) scale(0.955,1)" x="0" y="0" fill="#f00" font-size="24.2">6</text>
<text transform="translate(24.87,361) scale(0.955,1)" x="0" y="0" fill="#f00" font-size="24.2">7</text>
<text transform="translate(15.55,590) scale(0.955,1)" x="0" y="0" fill="#00f" font-size="24.2">2</text>
<text transform="translate(28.40,590) scale(0.955,1)" x="0" y="0" fill="#00f" font-size="24.2">4</text>
<text transform="translate(114.17,102.1) scale(0.955,1)" x="0" y="0" fill="#f00" font-size="24.2">8</text>
<text transform="translate(114.17,131.5) scale(0.955,1)" x="0" y="0" fill="#f00" font-size="24.2">9</text>
<path transform="translate(107.75,159.6) scale(0.01128,-0.01182)" d="M763,0 L583,0 L583,1147 C540,1106 483,1065 413,1024 C342,983 279,952 223,931 L223,1105 C324,1152 412,1210 487,1277 C562,1344 615,1408 646,1466 L763,1466 Z" fill="#f00"/>
<path transform="translate(120.60,159.6) scale(0.01128,-0.01182)" d="M763,0 L583,0 L583,1147 C540,1106 483,1065 413,1024 C342,983 279,952 223,931 L223,1105 C324,1152 412,1210 487,1277 C562,1344 615,1408 646,1466 L763,1466 Z" fill="#f00"/>
<path transform="translate(107.75,188.6) scale(0.01128,-0.01182)" d="M763,0 L583,0 L583,1147 C540,1106 483,1065 413,1024 C342,983 279,952 223,931 L223,1105 C324,1152 412,1210 487,1277 C562,1344 615,1408 646,1466 L763,1466 Z" fill="#f00"/>
<text transform="translate(120.60,188.6) scale(0.955,1)" x="0" y="0" fill="#f00" font-size="24.2">0</text>
<path transform="translate(107.75,217.5) scale(0.01128,-0.01182)" d="M763,0 L583,0 L583,1147 C540,1106 483,1065 413,1024 C342,983 279,952 223,931 L223,1105 C324,1152 412,1210 487,1277 C562,1344 615,1408 646,1466 L763,1466 Z" fill="#f00"/>
<text transform="translate(120.60,217.5) scale(0.955,1)" x="0" y="0" fill="#f00" font-size="24.2">2</text>
<path transform="translate(107.75,246.5) scale(0.01128,-0.01182)" d="M763,0 L583,0 L583,1147 C540,1106 483,1065 413,1024 C342,983 279,952 223,931 L223,1105 C324,1152 412,1210 487,1277 C562,1344 615,1408 646,1466 L763,1466 Z" fill="#f00"/>
<text transform="translate(120.60,246.5) scale(0.955,1)" x="0" y="0" fill="#f00" font-size="24.2">3</text>
<path transform="translate(107.75,275.5) scale(0.01128,-0.01182)" d="M763,0 L583,0 L583,1147 C540,1106 483,1065 413,1024 C342,983 279,952 223,931 L223,1105 C324,1152 412,1210 487,1277 C562,1344 615,1408 646,1466 L763,1466 Z" fill="#f00"/>
<text transform="translate(120.60,275.5) scale(0.955,1)" x="0" y="0" fill="#f00" font-size="24.2">4</text>
<path transform="translate(107.75,304.5) scale(0.01128,-0.01182)" d="M763,0 L583,0 L583,1147 C540,1106 483,1065 413,1024 C342,983 279,952 223,931 L223,1105 C324,1152 412,1210 487,1277 C562,1344 615,1408 646,1466 L763,1466 Z" fill="#f00"/>
<text transform="translate(120.60,304.5) scale(0.955,1)" x="0" y="0" fill="#f00" font-size="24.2">5</text>
<path transform="translate(107.45,329.3) scale(0.01128,-0.01182)" d="M763,0 L583,0 L583,1147 C540,1106 483,1065 413,1024 C342,983 279,952 223,931 L223,1105 C324,1152 412,1210 487,1277 C562,1344 615,1408 646,1466 L763,1466 Z" fill="#00f"/>
<text transform="translate(120.30,329.3) scale(0.955,1)" x="0" y="0" fill="#00f" font-size="24.2">5</text>
<path transform="translate(107.45,358.4) scale(0.01128,-0.01182)" d="M763,0 L583,0 L583,1147 C540,1106 483,1065 413,1024 C342,983 279,952 223,931 L223,1105 C324,1152 412,1210 487,1277 C562,1344 615,1408 646,1466 L763,1466 Z" fill="#00f"/>
<text transform="translate(120.30,358.4) scale(0.955,1)" x="0" y="0" fill="#00f" font-size="24.2">6</text>
<path transform="translate(107.45,386.8) scale(0.01128,-0.01182)" d="M763,0 L583,0 L583,1147 C540,1106 483,1065 413,1024 C342,983 279,952 223,931 L223,1105 C324,1152 412,1210 487,1277 C562,1344 615,1408 646,1466 L763,1466 Z" fill="#00f"/>
<text transform="translate(120.30,386.8) scale(0.955,1)" x="0" y="0" fill="#00f" font-size="24.2">7</text>
<path transform="translate(107.45,415.5) scale(0.01128,-0.01182)" d="M763,0 L583,0 L583,1147 C540,1106 483,1065 413,1024 C342,983 279,952 223,931 L223,1105 C324,1152 412,1210 487,1277 C562,1344 615,1408 646,1466 L763,1466 Z" fill="#00f"/>
<text transform="translate(120.30,415.5) scale(0.955,1)" x="0" y="0" fill="#00f" font-size="24.2">8</text>
<path transform="translate(107.45,444.7) scale(0.01128,-0.01182)" d="M763,0 L583,0 L583,1147 C540,1106 483,1065 413,1024 C342,983 279,952 223,931 L223,1105 C324,1152 412,1210 487,1277 C562,1344 615,1408 646,1466 L763,1466 Z" fill="#00f"/>
<text transform="translate(120.30,444.7) scale(0.955,1)" x="0" y="0" fill="#00f" font-size="24.2">9</text>
<text transform="translate(107.45,474) scale(0.955,1)" x="0" y="0" fill="#00f" font-size="24.2">2</text>
<text transform="translate(120.30,474) scale(0.955,1)" x="0" y="0" fill="#00f" font-size="24.2">0</text>
<text transform="translate(107.45,503.4) scale(0.955,1)" x="0" y="0" fill="#00f" font-size="24.2">2</text>
<path transform="translate(120.30,503.4) scale(0.01128,-0.01182)" d="M763,0 L583,0 L583,1147 C540,1106 483,1065 413,1024 C342,983 279,952 223,931 L223,1105 C324,1152 412,1210 487,1277 C562,1344 615,1408 646,1466 L763,1466 Z" fill="#00f"/>
<text transform="translate(107.45,559.6) scale(0.955,1)" x="0" y="0" fill="#00f" font-size="24.2">2</text>
<text transform="translate(120.30,559.6) scale(0.955,1)" x="0" y="0" fill="#00f" font-size="24.2">2</text>
<text transform="translate(107.45,588.5) scale(0.955,1)" x="0" y="0" fill="#00f" font-size="24.2">2</text>
<text transform="translate(120.30,588.5) scale(0.955,1)" x="0" y="0" fill="#00f" font-size="24.2">3</text>
<text transform="translate(516.27,104.3) scale(0.955,1)" x="0" y="0" fill="#00f" font-size="24.2">7</text>
<text transform="translate(516.07,191.4) scale(0.955,1)" x="0" y="0" fill="#00f" font-size="24.2">6</text>
<path transform="translate(592.00,131.3) scale(0.01128,-0.01182)" d="M763,0 L583,0 L583,1147 C540,1106 483,1065 413,1024 C342,983 279,952 223,931 L223,1105 C324,1152 412,1210 487,1277 C562,1344 615,1408 646,1466 L763,1466 Z" fill="#00f"/>
<text transform="translate(592.00,160) scale(0.955,1)" x="0" y="0" fill="#00f" font-size="24.2">2</text>
<text transform="translate(592.00,188.8) scale(0.955,1)" x="0" y="0" fill="#00f" font-size="24.2">3</text>
<text transform="translate(592.00,217.5) scale(0.955,1)" x="0" y="0" fill="#00f" font-size="24.2">8</text>
<text transform="translate(592,247.5) scale(0.96,1)" x="0" y="0" fill="#00f" font-size="24" text-anchor="start" letter-spacing="0.3" >Plgn</text>
<text transform="translate(512.07,295.3) scale(0.955,1)" x="0" y="0" fill="#00f" font-size="24.2">4</text>
<text transform="translate(512.07,323.4) scale(0.955,1)" x="0" y="0" fill="#00f" font-size="24.2">5</text>
<text transform="translate(512.07,352.4) scale(0.955,1)" x="0" y="0" fill="#00f" font-size="24.2">9</text>
<path transform="translate(505.65,380.5) scale(0.01128,-0.01182)" d="M763,0 L583,0 L583,1147 C540,1106 483,1065 413,1024 C342,983 279,952 223,931 L223,1105 C324,1152 412,1210 487,1277 C562,1344 615,1408 646,1466 L763,1466 Z" fill="#00f"/>
<text transform="translate(518.50,380.5) scale(0.955,1)" x="0" y="0" fill="#00f" font-size="24.2">0</text>
<path transform="translate(505.65,410) scale(0.01128,-0.01182)" d="M763,0 L583,0 L583,1147 C540,1106 483,1065 413,1024 C342,983 279,952 223,931 L223,1105 C324,1152 412,1210 487,1277 C562,1344 615,1408 646,1466 L763,1466 Z" fill="#00f"/>
<path transform="translate(518.50,410) scale(0.01128,-0.01182)" d="M763,0 L583,0 L583,1147 C540,1106 483,1065 413,1024 C342,983 279,952 223,931 L223,1105 C324,1152 412,1210 487,1277 C562,1344 615,1408 646,1466 L763,1466 Z" fill="#00f"/>
<path transform="translate(505.65,438.8) scale(0.01128,-0.01182)" d="M763,0 L583,0 L583,1147 C540,1106 483,1065 413,1024 C342,983 279,952 223,931 L223,1105 C324,1152 412,1210 487,1277 C562,1344 615,1408 646,1466 L763,1466 Z" fill="#00f"/>
<text transform="translate(518.50,438.8) scale(0.955,1)" x="0" y="0" fill="#00f" font-size="24.2">2</text>
<path transform="translate(505.65,467.6) scale(0.01128,-0.01182)" d="M763,0 L583,0 L583,1147 C540,1106 483,1065 413,1024 C342,983 279,952 223,931 L223,1105 C324,1152 412,1210 487,1277 C562,1344 615,1408 646,1466 L763,1466 Z" fill="#00f"/>
<text transform="translate(518.50,467.6) scale(0.955,1)" x="0" y="0" fill="#00f" font-size="24.2">3</text>
<path transform="translate(505.65,495.5) scale(0.01128,-0.01182)" d="M763,0 L583,0 L583,1147 C540,1106 483,1065 413,1024 C342,983 279,952 223,931 L223,1105 C324,1152 412,1210 487,1277 C562,1344 615,1408 646,1466 L763,1466 Z" fill="#00f"/>
<text transform="translate(518.50,495.5) scale(0.955,1)" x="0" y="0" fill="#00f" font-size="24.2">4</text>
<text transform="translate(596.5,294.7) scale(0.96,1)" x="0" y="0" fill="#000" font-size="24" text-anchor="start" letter-spacing="0.3" >Gnd</text>
<text transform="translate(596.5,324) scale(0.96,1)" x="0" y="0" fill="#000" font-size="24" text-anchor="start" letter-spacing="0.3" >Gnd</text>
<text transform="translate(596.5,351.5) scale(0.96,1)" x="0" y="0" fill="#000" font-size="24" text-anchor="start" letter-spacing="0.3" >&#160;5V</text>
<text transform="translate(596.5,381) scale(0.96,1)" x="0" y="0" fill="#000" font-size="24" text-anchor="start" letter-spacing="0.3" >&#160;5V</text>
<text transform="translate(596.5,438.5) scale(0.96,1)" x="0" y="0" fill="#000" font-size="24" text-anchor="start" letter-spacing="0.3" >&#160;5V</text>
</g>
</svg>
</body></html>
